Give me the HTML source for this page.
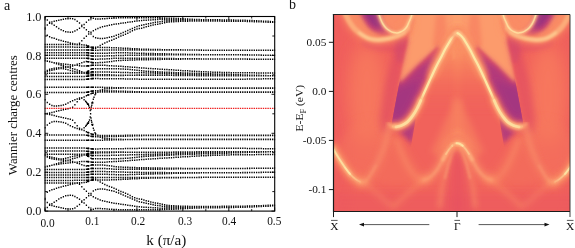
<!DOCTYPE html>
<html><head><meta charset="utf-8"><title>figure</title>
<style>html,body{margin:0;padding:0;background:#fff}svg{display:block}text{font-family:'Liberation Serif','DejaVu Serif',serif;fill:#111}</style></head><body>
<svg width="575" height="248" viewBox="0 0 575 248">
<rect width="575" height="248" fill="#fff"/>
<clipPath id="cpa"><rect x="44.5" y="16.5" width="230.7" height="194.6"/></clipPath>
<g clip-path="url(#cpa)"><path d="M45.0,16.8v1.5M47.3,19.3v1.5M49.6,21.4v1.5M51.9,23.1v1.5M54.2,24.4v1.5M56.5,26.0v1.5M58.8,27.7v1.5M61.1,29.0v1.5M63.4,30.1v1.5M65.7,30.9v1.5M68.0,31.2v1.5M70.3,31.4v1.5M72.6,31.2v1.5M74.9,30.2v1.5M77.2,29.0v1.5M79.5,27.4v1.5M81.8,25.7v1.5M84.1,23.8v1.5M86.4,21.6v1.5M88.7,19.3v1.5M91.0,17.1v1.5M93.3,17.5v1.5M95.6,18.2v1.5M97.9,18.2v1.5M100.2,18.2v1.5M102.5,18.1v1.5M104.8,18.0v1.5M107.1,17.8v1.5M109.4,17.5v1.5M111.7,17.4v1.5M114.0,17.3v1.5M116.3,17.2v1.5M118.6,17.1v1.5M120.9,17.1v1.5M123.2,17.0v1.5M125.5,17.0v1.5M127.8,16.9v1.5M130.1,16.9v1.5M132.4,16.9v1.5M134.7,16.9v1.5M137.0,16.9v1.5M139.3,16.9v1.5M141.6,16.9v1.5M143.9,16.9v1.5M146.2,16.9v1.5M148.5,16.9v1.5M150.8,17.0v1.5M153.1,17.0v1.5M155.4,17.1v1.5M157.7,17.1v1.5M160.0,17.2v1.5M162.3,17.2v1.5M164.6,17.3v1.5M166.9,17.4v1.5M169.2,17.4v1.5M171.5,17.5v1.5M173.8,17.6v1.5M176.1,17.7v1.5M178.4,17.8v1.5M180.7,17.9v1.5M183.0,18.0v1.5M185.3,18.2v1.5M187.6,18.3v1.5M189.9,18.4v1.5M192.2,18.6v1.5M194.5,18.7v1.5M196.8,18.8v1.5M199.1,18.8v1.5M201.4,18.9v1.5M203.7,18.9v1.5M206.0,19.0v1.5M208.3,19.0v1.5M210.6,19.0v1.5M212.9,19.1v1.5M215.2,19.1v1.5M217.5,19.1v1.5M219.8,19.1v1.5M222.1,19.2v1.5M224.4,19.2v1.5M226.7,19.2v1.5M229.0,19.3v1.5M231.3,19.3v1.5M233.6,19.3v1.5M235.9,19.4v1.5M238.2,19.4v1.5M240.5,19.5v1.5M242.8,19.5v1.5M245.1,19.6v1.5M247.4,19.7v1.5M249.7,19.7v1.5M252.0,19.8v1.5M254.3,19.9v1.5M256.6,20.0v1.5M258.9,20.2v1.5M261.2,20.3v1.5M263.5,20.4v1.5M265.8,20.5v1.5M268.1,20.6v1.5M270.4,20.8v1.5M272.7,20.9v1.5M275.0,21.1v1.5M45.0,27.2v1.5M47.3,24.3v1.5M49.6,22.4v1.5M51.9,21.2v1.5M54.2,20.4v1.5M56.5,19.9v1.5M58.8,19.4v1.5M61.1,19.0v1.5M63.4,18.5v1.5M65.7,18.1v1.5M68.0,17.9v1.5M70.3,17.8v1.5M72.6,18.0v1.5M74.9,18.8v1.5M77.2,20.4v1.5M79.5,22.3v1.5M81.8,24.6v1.5M84.1,26.9v1.5M86.4,29.1v1.5M88.7,31.1v1.5M91.0,33.3v1.5M93.3,35.7v1.5M95.6,37.1v1.5M97.9,37.6v1.5M100.2,37.8v1.5M102.5,37.8v1.5M104.8,37.5v1.5M107.1,37.1v1.5M109.4,36.6v1.5M111.7,36.1v1.5M114.0,35.4v1.5M116.3,34.6v1.5M118.6,33.7v1.5M120.9,32.8v1.5M123.2,31.8v1.5M125.5,30.8v1.5M127.8,29.8v1.5M130.1,28.7v1.5M132.4,27.7v1.5M134.7,26.7v1.5M137.0,25.8v1.5M139.3,25.1v1.5M141.6,24.6v1.5M143.9,24.0v1.5M146.2,23.4v1.5M148.5,22.9v1.5M150.8,22.4v1.5M153.1,22.0v1.5M155.4,21.6v1.5M157.7,21.3v1.5M160.0,20.9v1.5M162.3,20.5v1.5M164.6,20.2v1.5M166.9,20.1v1.5M169.2,20.0v1.5M171.5,20.0v1.5M173.8,19.9v1.5M176.1,19.9v1.5M178.4,19.9v1.5M180.7,19.9v1.5M183.0,19.9v1.5M185.3,19.9v1.5M187.6,19.9v1.5M189.9,19.9v1.5M192.2,20.0v1.5M194.5,20.0v1.5M196.8,20.1v1.5M199.1,20.1v1.5M201.4,20.2v1.5M203.7,20.2v1.5M206.0,20.2v1.5M208.3,20.2v1.5M210.6,20.3v1.5M212.9,20.3v1.5M215.2,20.3v1.5M217.5,20.3v1.5M219.8,20.3v1.5M222.1,20.4v1.5M224.4,20.4v1.5M226.7,20.4v1.5M229.0,20.4v1.5M231.3,20.4v1.5M233.6,20.5v1.5M235.9,20.5v1.5M238.2,20.5v1.5M240.5,20.6v1.5M242.8,20.6v1.5M245.1,20.6v1.5M247.4,20.7v1.5M249.7,20.8v1.5M252.0,20.8v1.5M254.3,20.9v1.5M256.6,21.0v1.5M258.9,21.0v1.5M261.2,21.1v1.5M263.5,21.2v1.5M265.8,21.3v1.5M268.1,21.4v1.5M270.4,21.5v1.5M272.7,21.6v1.5M275.0,21.6v1.5M45.0,28.2v1.5M47.3,34.4v1.5M49.6,36.1v1.5M51.9,37.0v1.5M54.2,37.6v1.5M56.5,38.4v1.5M58.8,39.2v1.5M61.1,39.8v1.5M63.4,40.4v1.5M65.7,40.9v1.5M68.0,41.5v1.5M70.3,42.2v1.5M72.6,42.8v1.5M74.9,43.2v1.5M77.2,43.5v1.5M79.5,42.4v1.5M81.8,39.9v1.5M84.1,37.6v1.5M86.4,35.5v1.5M88.7,33.3v1.5M91.0,31.5v1.5M93.3,29.9v1.5M95.6,28.7v1.5M97.9,27.7v1.5M100.2,26.8v1.5M102.5,26.1v1.5M104.8,25.5v1.5M107.1,25.0v1.5M109.4,24.5v1.5M111.7,24.0v1.5M114.0,23.6v1.5M116.3,23.2v1.5M118.6,22.9v1.5M120.9,22.6v1.5M123.2,22.3v1.5M125.5,22.0v1.5M127.8,21.6v1.5M130.1,21.2v1.5M132.4,20.9v1.5M134.7,20.5v1.5M137.0,20.2v1.5M139.3,20.0v1.5M141.6,19.8v1.5M143.9,19.6v1.5M146.2,19.5v1.5M148.5,19.3v1.5M150.8,19.2v1.5M153.1,19.1v1.5M155.4,18.9v1.5M157.7,18.8v1.5M160.0,18.6v1.5M162.3,18.5v1.5M164.6,18.5v1.5M166.9,18.4v1.5M169.2,18.4v1.5M171.5,18.4v1.5M173.8,18.4v1.5M176.1,18.4v1.5M178.4,18.4v1.5M180.7,18.4v1.5M183.0,18.5v1.5M185.3,18.5v1.5M187.6,18.5v1.5M189.9,18.6v1.5M192.2,18.6v1.5M194.5,18.7v1.5M196.8,18.8v1.5M199.1,18.8v1.5M201.4,18.9v1.5M203.7,18.9v1.5M206.0,18.9v1.5M208.3,19.0v1.5M210.6,19.0v1.5M212.9,19.0v1.5M215.2,19.1v1.5M217.5,19.1v1.5M219.8,19.1v1.5M222.1,19.2v1.5M224.4,19.2v1.5M226.7,19.2v1.5M229.0,19.2v1.5M231.3,19.3v1.5M233.6,19.3v1.5M235.9,19.4v1.5M238.2,19.4v1.5M240.5,19.5v1.5M242.8,19.5v1.5M245.1,19.6v1.5M247.4,19.7v1.5M249.7,19.7v1.5M252.0,19.8v1.5M254.3,19.9v1.5M256.6,20.0v1.5M258.9,20.2v1.5M261.2,20.3v1.5M263.5,20.4v1.5M265.8,20.5v1.5M268.1,20.6v1.5M270.4,20.8v1.5M272.7,20.9v1.5M275.0,21.1v1.5M45.0,43.8v1.5M47.3,43.8v1.5M49.6,43.8v1.5M51.9,43.8v1.5M54.2,43.8v1.5M56.5,43.8v1.5M58.8,43.8v1.5M61.1,43.8v1.5M63.4,43.8v1.5M65.7,43.8v1.5M68.0,43.8v1.5M70.3,43.8v1.5M72.6,43.8v1.5M74.9,43.8v1.5M77.2,43.9v1.5M79.5,43.9v1.5M81.8,44.0v1.5M84.1,44.2v1.5M86.4,44.6v1.5M88.7,45.7v1.5M91.0,46.6v1.5M93.3,47.4v1.5M95.6,47.4v1.5M97.9,46.2v1.5M100.2,44.7v1.5M102.5,43.5v1.5M104.8,42.3v1.5M107.1,41.2v1.5M109.4,40.3v1.5M111.7,39.5v1.5M114.0,38.6v1.5M116.3,37.4v1.5M118.6,36.2v1.5M120.9,35.2v1.5M123.2,34.4v1.5M125.5,33.5v1.5M127.8,32.5v1.5M130.1,31.3v1.5M132.4,30.1v1.5M134.7,29.1v1.5M137.0,28.3v1.5M139.3,27.8v1.5M141.6,27.4v1.5M143.9,26.8v1.5M146.2,26.1v1.5M148.5,25.4v1.5M150.8,24.8v1.5M153.1,24.3v1.5M155.4,23.8v1.5M157.7,23.4v1.5M160.0,22.9v1.5M162.3,22.4v1.5M164.6,22.0v1.5M166.9,21.6v1.5M169.2,21.3v1.5M171.5,21.0v1.5M173.8,20.9v1.5M176.1,20.7v1.5M178.4,20.7v1.5M180.7,20.6v1.5M183.0,20.5v1.5M185.3,20.5v1.5M187.6,20.4v1.5M189.9,20.3v1.5M192.2,20.3v1.5M194.5,20.2v1.5M196.8,20.2v1.5M199.1,20.2v1.5M201.4,20.2v1.5M203.7,20.2v1.5M206.0,20.2v1.5M208.3,20.2v1.5M210.6,20.2v1.5M212.9,20.2v1.5M215.2,20.2v1.5M217.5,20.2v1.5M219.8,20.3v1.5M222.1,20.3v1.5M224.4,20.3v1.5M226.7,20.4v1.5M229.0,20.4v1.5M231.3,20.4v1.5M233.6,20.5v1.5M235.9,20.5v1.5M238.2,20.5v1.5M240.5,20.6v1.5M242.8,20.6v1.5M245.1,20.6v1.5M247.4,20.7v1.5M249.7,20.8v1.5M252.0,20.8v1.5M254.3,20.9v1.5M256.6,21.0v1.5M258.9,21.0v1.5M261.2,21.1v1.5M263.5,21.2v1.5M265.8,21.3v1.5M268.1,21.4v1.5M270.4,21.5v1.5M272.7,21.6v1.5M275.0,21.6v1.5M45.0,46.2v1.5M47.3,46.3v1.5M49.6,46.3v1.5M51.9,46.3v1.5M54.2,46.3v1.5M56.5,46.3v1.5M58.8,46.3v1.5M61.1,46.3v1.5M63.4,46.3v1.5M65.7,46.3v1.5M68.0,46.3v1.5M70.3,46.3v1.5M72.6,46.3v1.5M74.9,46.4v1.5M77.2,46.4v1.5M79.5,46.4v1.5M81.8,46.4v1.5M84.1,46.4v1.5M86.4,46.5v1.5M88.7,46.5v1.5M91.0,46.6v1.5M93.3,46.6v1.5M95.6,46.6v1.5M97.9,46.6v1.5M100.2,46.7v1.5M102.5,46.7v1.5M104.8,46.7v1.5M107.1,46.8v1.5M109.4,46.8v1.5M111.7,46.9v1.5M114.0,47.0v1.5M116.3,47.1v1.5M118.6,47.2v1.5M120.9,47.3v1.5M123.2,47.4v1.5M125.5,47.5v1.5M127.8,47.6v1.5M130.1,47.7v1.5M132.4,47.9v1.5M134.7,48.0v1.5M137.0,48.1v1.5M139.3,48.3v1.5M141.6,48.4v1.5M143.9,48.5v1.5M146.2,48.6v1.5M148.5,48.6v1.5M150.8,48.7v1.5M153.1,48.7v1.5M155.4,48.7v1.5M157.7,48.8v1.5M160.0,48.8v1.5M162.3,48.9v1.5M164.6,48.9v1.5M166.9,48.9v1.5M169.2,49.0v1.5M171.5,49.0v1.5M173.8,49.0v1.5M176.1,49.1v1.5M178.4,49.1v1.5M180.7,49.1v1.5M183.0,49.2v1.5M185.3,49.2v1.5M187.6,49.2v1.5M189.9,49.2v1.5M192.2,49.3v1.5M194.5,49.3v1.5M196.8,49.3v1.5M199.1,49.3v1.5M201.4,49.3v1.5M203.7,49.4v1.5M206.0,49.4v1.5M208.3,49.4v1.5M210.6,49.4v1.5M212.9,49.4v1.5M215.2,49.4v1.5M217.5,49.4v1.5M219.8,49.4v1.5M222.1,49.4v1.5M224.4,49.4v1.5M226.7,49.4v1.5M229.0,49.4v1.5M231.3,49.4v1.5M233.6,49.4v1.5M235.9,49.4v1.5M238.2,49.4v1.5M240.5,49.4v1.5M242.8,49.4v1.5M245.1,49.4v1.5M247.4,49.4v1.5M249.7,49.4v1.5M252.0,49.4v1.5M254.3,49.4v1.5M256.6,49.4v1.5M258.9,49.4v1.5M261.2,49.4v1.5M263.5,49.4v1.5M265.8,49.4v1.5M268.1,49.4v1.5M270.4,49.4v1.5M272.7,49.4v1.5M275.0,49.4v1.5M45.0,49.2v1.5M47.3,49.2v1.5M49.6,49.2v1.5M51.9,49.2v1.5M54.2,49.2v1.5M56.5,49.2v1.5M58.8,49.2v1.5M61.1,49.2v1.5M63.4,49.2v1.5M65.7,49.2v1.5M68.0,49.2v1.5M70.3,49.2v1.5M72.6,49.2v1.5M74.9,49.2v1.5M77.2,49.2v1.5M79.5,49.2v1.5M81.8,49.2v1.5M84.1,49.2v1.5M86.4,49.3v1.5M88.7,49.3v1.5M91.0,49.3v1.5M93.3,49.4v1.5M95.6,49.4v1.5M97.9,49.4v1.5M100.2,49.3v1.5M102.5,49.3v1.5M104.8,49.3v1.5M107.1,49.3v1.5M109.4,49.3v1.5M111.7,49.3v1.5M114.0,49.3v1.5M116.3,49.3v1.5M118.6,49.3v1.5M120.9,49.2v1.5M123.2,49.2v1.5M125.5,49.2v1.5M127.8,49.2v1.5M130.1,49.2v1.5M132.4,49.2v1.5M134.7,49.2v1.5M137.0,49.2v1.5M139.3,49.2v1.5M141.6,49.2v1.5M143.9,49.2v1.5M146.2,49.2v1.5M148.5,49.2v1.5M150.8,49.2v1.5M153.1,49.2v1.5M155.4,49.2v1.5M157.7,49.2v1.5M160.0,49.2v1.5M162.3,49.2v1.5M164.6,49.2v1.5M166.9,49.2v1.5M169.2,49.2v1.5M171.5,49.2v1.5M173.8,49.2v1.5M176.1,49.2v1.5M178.4,49.2v1.5M180.7,49.2v1.5M183.0,49.3v1.5M185.3,49.3v1.5M187.6,49.3v1.5M189.9,49.3v1.5M192.2,49.3v1.5M194.5,49.3v1.5M196.8,49.3v1.5M199.1,49.4v1.5M201.4,49.4v1.5M203.7,49.4v1.5M206.0,49.4v1.5M208.3,49.4v1.5M210.6,49.4v1.5M212.9,49.4v1.5M215.2,49.4v1.5M217.5,49.4v1.5M219.8,49.4v1.5M222.1,49.4v1.5M224.4,49.4v1.5M226.7,49.4v1.5M229.0,49.4v1.5M231.3,49.4v1.5M233.6,49.4v1.5M235.9,49.4v1.5M238.2,49.4v1.5M240.5,49.4v1.5M242.8,49.4v1.5M245.1,49.4v1.5M247.4,49.4v1.5M249.7,49.4v1.5M252.0,49.4v1.5M254.3,49.4v1.5M256.6,49.4v1.5M258.9,49.4v1.5M261.2,49.4v1.5M263.5,49.4v1.5M265.8,49.4v1.5M268.1,49.4v1.5M270.4,49.4v1.5M272.7,49.4v1.5M275.0,49.4v1.5M45.0,51.9v1.5M47.3,51.9v1.5M49.6,51.9v1.5M51.9,51.9v1.5M54.2,51.9v1.5M56.5,51.9v1.5M58.8,51.9v1.5M61.1,51.9v1.5M63.4,51.9v1.5M65.7,51.9v1.5M68.0,51.9v1.5M70.3,51.9v1.5M72.6,51.9v1.5M74.9,51.9v1.5M77.2,51.9v1.5M79.5,51.9v1.5M81.8,51.9v1.5M84.1,51.9v1.5M86.4,51.9v1.5M88.7,52.2v1.5M91.0,52.4v1.5M93.3,52.5v1.5M95.6,52.5v1.5M97.9,52.5v1.5M100.2,52.5v1.5M102.5,52.5v1.5M104.8,52.5v1.5M107.1,52.4v1.5M109.4,52.3v1.5M111.7,52.2v1.5M114.0,52.2v1.5M116.3,52.1v1.5M118.6,52.1v1.5M120.9,52.1v1.5M123.2,52.1v1.5M125.5,52.1v1.5M127.8,52.1v1.5M130.1,52.2v1.5M132.4,52.2v1.5M134.7,52.3v1.5M137.0,52.4v1.5M139.3,52.4v1.5M141.6,52.5v1.5M143.9,52.6v1.5M146.2,52.7v1.5M148.5,52.7v1.5M150.8,52.8v1.5M153.1,52.8v1.5M155.4,52.9v1.5M157.7,52.9v1.5M160.0,53.0v1.5M162.3,53.1v1.5M164.6,53.1v1.5M166.9,53.2v1.5M169.2,53.2v1.5M171.5,53.3v1.5M173.8,53.4v1.5M176.1,53.4v1.5M178.4,53.5v1.5M180.7,53.5v1.5M183.0,53.6v1.5M185.3,53.6v1.5M187.6,53.7v1.5M189.9,53.7v1.5M192.2,53.7v1.5M194.5,53.8v1.5M196.8,53.8v1.5M199.1,53.8v1.5M201.4,53.9v1.5M203.7,53.9v1.5M206.0,53.9v1.5M208.3,53.9v1.5M210.6,53.9v1.5M212.9,53.9v1.5M215.2,54.0v1.5M217.5,54.0v1.5M219.8,54.0v1.5M222.1,54.0v1.5M224.4,54.0v1.5M226.7,54.0v1.5M229.0,54.0v1.5M231.3,54.1v1.5M233.6,54.1v1.5M235.9,54.1v1.5M238.2,54.1v1.5M240.5,54.1v1.5M242.8,54.2v1.5M245.1,54.2v1.5M247.4,54.2v1.5M249.7,54.2v1.5M252.0,54.3v1.5M254.3,54.3v1.5M256.6,54.3v1.5M258.9,54.3v1.5M261.2,54.4v1.5M263.5,54.4v1.5M265.8,54.4v1.5M268.1,54.5v1.5M270.4,54.5v1.5M272.7,54.5v1.5M275.0,54.5v1.5M45.0,54.4v1.5M47.3,54.4v1.5M49.6,54.4v1.5M51.9,54.4v1.5M54.2,54.4v1.5M56.5,54.4v1.5M58.8,54.4v1.5M61.1,54.4v1.5M63.4,54.4v1.5M65.7,54.4v1.5M68.0,54.4v1.5M70.3,54.4v1.5M72.6,54.4v1.5M74.9,54.4v1.5M77.2,54.4v1.5M79.5,54.4v1.5M81.8,54.4v1.5M84.1,54.4v1.5M86.4,54.4v1.5M88.7,54.7v1.5M91.0,55.1v1.5M93.3,55.2v1.5M95.6,55.2v1.5M97.9,55.2v1.5M100.2,55.2v1.5M102.5,55.2v1.5M104.8,55.2v1.5M107.1,55.1v1.5M109.4,55.1v1.5M111.7,55.0v1.5M114.0,54.9v1.5M116.3,54.8v1.5M118.6,54.8v1.5M120.9,54.7v1.5M123.2,54.7v1.5M125.5,54.6v1.5M127.8,54.6v1.5M130.1,54.5v1.5M132.4,54.5v1.5M134.7,54.5v1.5M137.0,54.4v1.5M139.3,54.4v1.5M141.6,54.3v1.5M143.9,54.3v1.5M146.2,54.3v1.5M148.5,54.3v1.5M150.8,54.2v1.5M153.1,54.2v1.5M155.4,54.2v1.5M157.7,54.2v1.5M160.0,54.2v1.5M162.3,54.2v1.5M164.6,54.2v1.5M166.9,54.1v1.5M169.2,54.1v1.5M171.5,54.1v1.5M173.8,54.1v1.5M176.1,54.1v1.5M178.4,54.1v1.5M180.7,54.1v1.5M183.0,54.1v1.5M185.3,54.1v1.5M187.6,54.1v1.5M189.9,54.1v1.5M192.2,54.1v1.5M194.5,54.1v1.5M196.8,54.1v1.5M199.1,54.1v1.5M201.4,54.0v1.5M203.7,54.0v1.5M206.0,54.0v1.5M208.3,54.0v1.5M210.6,54.0v1.5M212.9,54.0v1.5M215.2,54.0v1.5M217.5,54.0v1.5M219.8,54.0v1.5M222.1,54.0v1.5M224.4,54.0v1.5M226.7,54.0v1.5M229.0,54.0v1.5M231.3,54.1v1.5M233.6,54.1v1.5M235.9,54.1v1.5M238.2,54.1v1.5M240.5,54.1v1.5M242.8,54.1v1.5M245.1,54.1v1.5M247.4,54.1v1.5M249.7,54.2v1.5M252.0,54.2v1.5M254.3,54.2v1.5M256.6,54.3v1.5M258.9,54.3v1.5M261.2,54.3v1.5M263.5,54.4v1.5M265.8,54.4v1.5M268.1,54.4v1.5M270.4,54.5v1.5M272.7,54.5v1.5M275.0,54.5v1.5M45.0,57.4v1.5M47.3,57.4v1.5M49.6,57.4v1.5M51.9,57.4v1.5M54.2,57.4v1.5M56.5,57.4v1.5M58.8,57.4v1.5M61.1,57.4v1.5M63.4,57.4v1.5M65.7,57.4v1.5M68.0,57.4v1.5M70.3,57.4v1.5M72.6,57.4v1.5M74.9,57.4v1.5M77.2,57.4v1.5M79.5,57.4v1.5M81.8,57.4v1.5M84.1,57.4v1.5M86.4,57.4v1.5M88.7,57.8v1.5M91.0,58.2v1.5M93.3,58.4v1.5M95.6,58.4v1.5M97.9,58.4v1.5M100.2,58.3v1.5M102.5,58.3v1.5M104.8,58.2v1.5M107.1,58.1v1.5M109.4,57.9v1.5M111.7,57.8v1.5M114.0,57.6v1.5M116.3,57.5v1.5M118.6,57.5v1.5M120.9,57.5v1.5M123.2,57.5v1.5M125.5,57.5v1.5M127.8,57.5v1.5M130.1,57.5v1.5M132.4,57.5v1.5M134.7,57.5v1.5M137.0,57.5v1.5M139.3,57.5v1.5M141.6,57.5v1.5M143.9,57.5v1.5M146.2,57.5v1.5M148.5,57.5v1.5M150.8,57.6v1.5M153.1,57.6v1.5M155.4,57.6v1.5M157.7,57.6v1.5M160.0,57.6v1.5M162.3,57.7v1.5M164.6,57.7v1.5M166.9,57.7v1.5M169.2,57.8v1.5M171.5,57.8v1.5M173.8,57.8v1.5M176.1,57.9v1.5M178.4,57.9v1.5M180.7,57.9v1.5M183.0,58.0v1.5M185.3,58.0v1.5M187.6,58.0v1.5M189.9,58.1v1.5M192.2,58.1v1.5M194.5,58.1v1.5M196.8,58.1v1.5M199.1,58.1v1.5M201.4,58.2v1.5M203.7,58.2v1.5M206.0,58.2v1.5M208.3,58.2v1.5M210.6,58.2v1.5M212.9,58.2v1.5M215.2,58.2v1.5M217.5,58.2v1.5M219.8,58.2v1.5M222.1,58.2v1.5M224.4,58.2v1.5M226.7,58.2v1.5M229.0,58.2v1.5M231.3,58.3v1.5M233.6,58.3v1.5M235.9,58.3v1.5M238.2,58.3v1.5M240.5,58.3v1.5M242.8,58.3v1.5M245.1,58.3v1.5M247.4,58.4v1.5M249.7,58.4v1.5M252.0,58.4v1.5M254.3,58.4v1.5M256.6,58.4v1.5M258.9,58.5v1.5M261.2,58.5v1.5M263.5,58.5v1.5M265.8,58.5v1.5M268.1,58.6v1.5M270.4,58.6v1.5M272.7,58.6v1.5M275.0,58.6v1.5M45.0,71.2v1.5M47.3,69.7v1.5M49.6,68.6v1.5M51.9,68.0v1.5M54.2,67.5v1.5M56.5,67.2v1.5M58.8,66.9v1.5M61.1,66.7v1.5M63.4,66.5v1.5M65.7,66.4v1.5M68.0,66.1v1.5M70.3,65.7v1.5M72.6,65.2v1.5M74.9,64.4v1.5M77.2,63.6v1.5M79.5,62.9v1.5M81.8,62.1v1.5M84.1,61.3v1.5M86.4,60.8v1.5M88.7,61.1v1.5M91.0,61.6v1.5M93.3,61.9v1.5M95.6,61.9v1.5M97.9,61.9v1.5M100.2,61.8v1.5M102.5,61.8v1.5M104.8,61.6v1.5M107.1,61.3v1.5M109.4,61.0v1.5M111.7,60.7v1.5M114.0,60.3v1.5M116.3,60.1v1.5M118.6,59.8v1.5M120.9,59.7v1.5M123.2,59.6v1.5M125.5,59.5v1.5M127.8,59.4v1.5M130.1,59.3v1.5M132.4,59.3v1.5M134.7,59.2v1.5M137.0,59.1v1.5M139.3,59.1v1.5M141.6,59.0v1.5M143.9,59.0v1.5M146.2,58.9v1.5M148.5,58.9v1.5M150.8,58.8v1.5M153.1,58.8v1.5M155.4,58.8v1.5M157.7,58.7v1.5M160.0,58.7v1.5M162.3,58.6v1.5M164.6,58.6v1.5M166.9,58.6v1.5M169.2,58.5v1.5M171.5,58.5v1.5M173.8,58.5v1.5M176.1,58.4v1.5M178.4,58.4v1.5M180.7,58.4v1.5M183.0,58.3v1.5M185.3,58.3v1.5M187.6,58.3v1.5M189.9,58.3v1.5M192.2,58.3v1.5M194.5,58.3v1.5M196.8,58.3v1.5M199.1,58.3v1.5M201.4,58.2v1.5M203.7,58.2v1.5M206.0,58.2v1.5M208.3,58.2v1.5M210.6,58.2v1.5M212.9,58.2v1.5M215.2,58.2v1.5M217.5,58.2v1.5M219.8,58.2v1.5M222.1,58.2v1.5M224.4,58.2v1.5M226.7,58.2v1.5M229.0,58.2v1.5M231.3,58.3v1.5M233.6,58.3v1.5M235.9,58.3v1.5M238.2,58.3v1.5M240.5,58.3v1.5M242.8,58.3v1.5M245.1,58.3v1.5M247.4,58.3v1.5M249.7,58.3v1.5M252.0,58.4v1.5M254.3,58.4v1.5M256.6,58.4v1.5M258.9,58.4v1.5M261.2,58.5v1.5M263.5,58.5v1.5M265.8,58.5v1.5M268.1,58.6v1.5M270.4,58.6v1.5M272.7,58.6v1.5M275.0,58.6v1.5M45.0,59.6v1.5M47.3,60.2v1.5M49.6,60.8v1.5M51.9,61.6v1.5M54.2,62.3v1.5M56.5,63.0v1.5M58.8,63.7v1.5M61.1,64.5v1.5M63.4,65.1v1.5M65.7,65.8v1.5M68.0,66.5v1.5M70.3,67.2v1.5M72.6,67.9v1.5M74.9,68.5v1.5M77.2,69.2v1.5M79.5,70.0v1.5M81.8,70.9v1.5M84.1,71.7v1.5M86.4,72.2v1.5M88.7,71.9v1.5M91.0,71.4v1.5M93.3,71.2v1.5M95.6,71.2v1.5M97.9,71.2v1.5M100.2,71.2v1.5M102.5,71.2v1.5M104.8,71.2v1.5M107.1,71.3v1.5M109.4,71.3v1.5M111.7,71.4v1.5M114.0,71.5v1.5M116.3,71.5v1.5M118.6,71.6v1.5M120.9,71.7v1.5M123.2,71.7v1.5M125.5,71.8v1.5M127.8,71.8v1.5M130.1,71.9v1.5M132.4,71.9v1.5M134.7,71.9v1.5M137.0,72.0v1.5M139.3,72.0v1.5M141.6,72.1v1.5M143.9,72.1v1.5M146.2,72.2v1.5M148.5,72.2v1.5M150.8,72.3v1.5M153.1,72.3v1.5M155.4,72.4v1.5M157.7,72.4v1.5M160.0,72.5v1.5M162.3,72.5v1.5M164.6,72.6v1.5M166.9,72.7v1.5M169.2,72.7v1.5M171.5,72.8v1.5M173.8,72.8v1.5M176.1,72.9v1.5M178.4,73.0v1.5M180.7,73.0v1.5M183.0,73.1v1.5M185.3,73.1v1.5M187.6,73.2v1.5M189.9,73.3v1.5M192.2,73.3v1.5M194.5,73.4v1.5M196.8,73.4v1.5M199.1,73.5v1.5M201.4,73.6v1.5M203.7,73.6v1.5M206.0,73.7v1.5M208.3,73.7v1.5M210.6,73.8v1.5M212.9,73.9v1.5M215.2,73.9v1.5M217.5,74.0v1.5M219.8,74.0v1.5M222.1,74.1v1.5M224.4,74.1v1.5M226.7,74.2v1.5M229.0,74.2v1.5M231.3,74.3v1.5M233.6,74.3v1.5M235.9,74.4v1.5M238.2,74.4v1.5M240.5,74.5v1.5M242.8,74.5v1.5M245.1,74.5v1.5M247.4,74.6v1.5M249.7,74.6v1.5M252.0,74.7v1.5M254.3,74.7v1.5M256.6,74.8v1.5M258.9,74.8v1.5M261.2,74.8v1.5M263.5,74.9v1.5M265.8,74.9v1.5M268.1,74.9v1.5M270.4,75.0v1.5M272.7,75.0v1.5M275.0,75.0v1.5M45.0,59.9v1.5M47.3,60.4v1.5M49.6,61.0v1.5M51.9,61.4v1.5M54.2,61.9v1.5M56.5,62.2v1.5M58.8,62.6v1.5M61.1,62.9v1.5M63.4,63.2v1.5M65.7,63.5v1.5M68.0,63.8v1.5M70.3,64.0v1.5M72.6,64.2v1.5M74.9,64.4v1.5M77.2,64.6v1.5M79.5,64.9v1.5M81.8,65.2v1.5M84.1,65.2v1.5M86.4,65.2v1.5M88.7,65.0v1.5M91.0,64.7v1.5M93.3,64.5v1.5M95.6,64.5v1.5M97.9,64.5v1.5M100.2,64.6v1.5M102.5,64.6v1.5M104.8,64.6v1.5M107.1,64.7v1.5M109.4,64.9v1.5M111.7,65.0v1.5M114.0,65.2v1.5M116.3,65.3v1.5M118.6,65.5v1.5M120.9,65.6v1.5M123.2,65.8v1.5M125.5,65.9v1.5M127.8,66.1v1.5M130.1,66.3v1.5M132.4,66.4v1.5M134.7,66.6v1.5M137.0,66.8v1.5M139.3,67.0v1.5M141.6,67.2v1.5M143.9,67.3v1.5M146.2,67.5v1.5M148.5,67.7v1.5M150.8,67.8v1.5M153.1,67.9v1.5M155.4,68.1v1.5M157.7,68.2v1.5M160.0,68.4v1.5M162.3,68.5v1.5M164.6,68.7v1.5M166.9,68.8v1.5M169.2,69.0v1.5M171.5,69.1v1.5M173.8,69.3v1.5M176.1,69.4v1.5M178.4,69.6v1.5M180.7,69.7v1.5M183.0,69.9v1.5M185.3,70.0v1.5M187.6,70.1v1.5M189.9,70.3v1.5M192.2,70.4v1.5M194.5,70.5v1.5M196.8,70.7v1.5M199.1,70.8v1.5M201.4,70.9v1.5M203.7,71.0v1.5M206.0,71.1v1.5M208.3,71.2v1.5M210.6,71.3v1.5M212.9,71.4v1.5M215.2,71.5v1.5M217.5,71.6v1.5M219.8,71.6v1.5M222.1,71.7v1.5M224.4,71.7v1.5M226.7,71.8v1.5M229.0,71.8v1.5M231.3,71.9v1.5M233.6,71.9v1.5M235.9,71.9v1.5M238.2,72.0v1.5M240.5,72.0v1.5M242.8,72.0v1.5M245.1,72.0v1.5M247.4,72.1v1.5M249.7,72.1v1.5M252.0,72.1v1.5M254.3,72.1v1.5M256.6,72.2v1.5M258.9,72.2v1.5M261.2,72.2v1.5M263.5,72.2v1.5M265.8,72.2v1.5M268.1,72.2v1.5M270.4,72.2v1.5M272.7,72.2v1.5M275.0,72.2v1.5M45.0,71.2v1.5M47.3,70.6v1.5M49.6,70.1v1.5M51.9,69.5v1.5M54.2,69.0v1.5M56.5,68.4v1.5M58.8,67.9v1.5M61.1,67.8v1.5M63.4,68.0v1.5M65.7,68.4v1.5M68.0,68.9v1.5M70.3,69.7v1.5M72.6,70.3v1.5M74.9,70.8v1.5M77.2,71.2v1.5M79.5,71.5v1.5M81.8,71.8v1.5M84.1,71.9v1.5M86.4,71.6v1.5M88.7,70.2v1.5M91.0,68.6v1.5M93.3,68.0v1.5M95.6,68.0v1.5M97.9,68.0v1.5M100.2,68.0v1.5M102.5,68.0v1.5M104.8,68.0v1.5M107.1,68.0v1.5M109.4,68.0v1.5M111.7,68.0v1.5M114.0,68.1v1.5M116.3,68.1v1.5M118.6,68.1v1.5M120.9,68.2v1.5M123.2,68.3v1.5M125.5,68.4v1.5M127.8,68.6v1.5M130.1,68.8v1.5M132.4,69.0v1.5M134.7,69.2v1.5M137.0,69.5v1.5M139.3,69.7v1.5M141.6,70.0v1.5M143.9,70.2v1.5M146.2,70.4v1.5M148.5,70.6v1.5M150.8,70.7v1.5M153.1,70.8v1.5M155.4,70.9v1.5M157.7,71.1v1.5M160.0,71.2v1.5M162.3,71.3v1.5M164.6,71.4v1.5M166.9,71.5v1.5M169.2,71.6v1.5M171.5,71.7v1.5M173.8,71.8v1.5M176.1,71.9v1.5M178.4,72.0v1.5M180.7,72.1v1.5M183.0,72.2v1.5M185.3,72.3v1.5M187.6,72.3v1.5M189.9,72.4v1.5M192.2,72.5v1.5M194.5,72.6v1.5M196.8,72.7v1.5M199.1,72.7v1.5M201.4,72.8v1.5M203.7,72.9v1.5M206.0,73.0v1.5M208.3,73.1v1.5M210.6,73.1v1.5M212.9,73.2v1.5M215.2,73.3v1.5M217.5,73.3v1.5M219.8,73.4v1.5M222.1,73.5v1.5M224.4,73.6v1.5M226.7,73.6v1.5M229.0,73.7v1.5M231.3,73.8v1.5M233.6,73.9v1.5M235.9,73.9v1.5M238.2,74.0v1.5M240.5,74.1v1.5M242.8,74.2v1.5M245.1,74.2v1.5M247.4,74.3v1.5M249.7,74.4v1.5M252.0,74.4v1.5M254.3,74.5v1.5M256.6,74.6v1.5M258.9,74.6v1.5M261.2,74.7v1.5M263.5,74.7v1.5M265.8,74.8v1.5M268.1,74.9v1.5M270.4,74.9v1.5M272.7,75.0v1.5M275.0,75.0v1.5M45.0,72.5v1.5M47.3,72.5v1.5M49.6,72.5v1.5M51.9,72.5v1.5M54.2,72.5v1.5M56.5,72.5v1.5M58.8,72.5v1.5M61.1,72.5v1.5M63.4,72.5v1.5M65.7,72.5v1.5M68.0,72.5v1.5M70.3,72.5v1.5M72.6,72.5v1.5M74.9,72.5v1.5M77.2,72.5v1.5M79.5,72.5v1.5M81.8,72.5v1.5M84.1,72.5v1.5M86.4,72.7v1.5M88.7,73.1v1.5M91.0,73.6v1.5M93.3,73.8v1.5M95.6,73.8v1.5M97.9,73.8v1.5M100.2,73.9v1.5M102.5,73.9v1.5M104.8,73.9v1.5M107.1,74.0v1.5M109.4,74.1v1.5M111.7,74.2v1.5M114.0,74.3v1.5M116.3,74.4v1.5M118.6,74.4v1.5M120.9,74.4v1.5M123.2,74.4v1.5M125.5,74.4v1.5M127.8,74.4v1.5M130.1,74.4v1.5M132.4,74.4v1.5M134.7,74.4v1.5M137.0,74.3v1.5M139.3,74.3v1.5M141.6,74.3v1.5M143.9,74.3v1.5M146.2,74.3v1.5M148.5,74.3v1.5M150.8,74.3v1.5M153.1,74.3v1.5M155.4,74.3v1.5M157.7,74.3v1.5M160.0,74.3v1.5M162.3,74.3v1.5M164.6,74.3v1.5M166.9,74.3v1.5M169.2,74.4v1.5M171.5,74.4v1.5M173.8,74.4v1.5M176.1,74.4v1.5M178.4,74.5v1.5M180.7,74.5v1.5M183.0,74.5v1.5M185.3,74.6v1.5M187.6,74.6v1.5M189.9,74.6v1.5M192.2,74.7v1.5M194.5,74.7v1.5M196.8,74.8v1.5M199.1,74.8v1.5M201.4,74.8v1.5M203.7,74.8v1.5M206.0,74.9v1.5M208.3,74.9v1.5M210.6,74.9v1.5M212.9,75.0v1.5M215.2,75.0v1.5M217.5,75.0v1.5M219.8,75.0v1.5M222.1,75.0v1.5M224.4,75.0v1.5M226.7,75.0v1.5M229.0,75.0v1.5M231.3,75.0v1.5M233.6,75.0v1.5M235.9,75.0v1.5M238.2,75.0v1.5M240.5,75.0v1.5M242.8,75.0v1.5M245.1,75.0v1.5M247.4,75.0v1.5M249.7,75.0v1.5M252.0,75.0v1.5M254.3,75.0v1.5M256.6,75.0v1.5M258.9,75.0v1.5M261.2,75.0v1.5M263.5,75.0v1.5M265.8,75.0v1.5M268.1,75.0v1.5M270.4,75.0v1.5M272.7,75.0v1.5M275.0,75.0v1.5M45.0,75.7v1.5M47.3,75.7v1.5M49.6,75.7v1.5M51.9,75.7v1.5M54.2,75.7v1.5M56.5,75.7v1.5M58.8,75.7v1.5M61.1,75.7v1.5M63.4,75.7v1.5M65.7,75.7v1.5M68.0,75.7v1.5M70.3,75.7v1.5M72.6,75.7v1.5M74.9,75.7v1.5M77.2,75.7v1.5M79.5,75.7v1.5M81.8,75.7v1.5M84.1,75.7v1.5M86.4,75.6v1.5M88.7,75.3v1.5M91.0,74.9v1.5M93.3,74.8v1.5M95.6,74.8v1.5M97.9,74.8v1.5M100.2,74.7v1.5M102.5,74.7v1.5M104.8,74.7v1.5M107.1,74.7v1.5M109.4,74.7v1.5M111.7,74.7v1.5M114.0,74.7v1.5M116.3,74.7v1.5M118.6,74.7v1.5M120.9,74.7v1.5M123.2,74.7v1.5M125.5,74.6v1.5M127.8,74.6v1.5M130.1,74.6v1.5M132.4,74.6v1.5M134.7,74.6v1.5M137.0,74.6v1.5M139.3,74.6v1.5M141.6,74.6v1.5M143.9,74.6v1.5M146.2,74.6v1.5M148.5,74.6v1.5M150.8,74.6v1.5M153.1,74.6v1.5M155.4,74.6v1.5M157.7,74.6v1.5M160.0,74.6v1.5M162.3,74.6v1.5M164.6,74.6v1.5M166.9,74.6v1.5M169.2,74.6v1.5M171.5,74.6v1.5M173.8,74.7v1.5M176.1,74.7v1.5M178.4,74.7v1.5M180.7,74.7v1.5M183.0,74.7v1.5M185.3,74.8v1.5M187.6,74.8v1.5M189.9,74.8v1.5M192.2,74.8v1.5M194.5,74.8v1.5M196.8,74.9v1.5M199.1,74.9v1.5M201.4,74.9v1.5M203.7,74.9v1.5M206.0,74.9v1.5M208.3,75.0v1.5M210.6,75.0v1.5M212.9,75.0v1.5M215.2,75.0v1.5M217.5,75.0v1.5M219.8,75.0v1.5M222.1,75.0v1.5M224.4,75.0v1.5M226.7,75.0v1.5M229.0,75.0v1.5M231.3,75.0v1.5M233.6,75.0v1.5M235.9,75.0v1.5M238.2,75.0v1.5M240.5,75.0v1.5M242.8,75.0v1.5M245.1,75.0v1.5M247.4,75.0v1.5M249.7,75.0v1.5M252.0,75.0v1.5M254.3,75.0v1.5M256.6,75.0v1.5M258.9,75.0v1.5M261.2,75.0v1.5M263.5,75.0v1.5M265.8,75.0v1.5M268.1,75.0v1.5M270.4,75.0v1.5M272.7,75.0v1.5M275.0,75.0v1.5M45.0,78.7v1.5M47.3,78.7v1.5M49.6,78.7v1.5M51.9,78.7v1.5M54.2,78.7v1.5M56.5,78.7v1.5M58.8,78.7v1.5M61.1,78.7v1.5M63.4,78.7v1.5M65.7,78.7v1.5M68.0,78.7v1.5M70.3,78.7v1.5M72.6,78.7v1.5M74.9,78.7v1.5M77.2,78.7v1.5M79.5,78.7v1.5M81.8,78.7v1.5M84.1,78.7v1.5M86.4,78.6v1.5M88.7,78.3v1.5M91.0,78.0v1.5M93.3,77.8v1.5M95.6,77.8v1.5M97.9,77.8v1.5M100.2,77.9v1.5M102.5,77.9v1.5M104.8,77.9v1.5M107.1,77.9v1.5M109.4,77.9v1.5M111.7,77.9v1.5M114.0,78.0v1.5M116.3,78.0v1.5M118.6,78.0v1.5M120.9,78.1v1.5M123.2,78.1v1.5M125.5,78.2v1.5M127.8,78.2v1.5M130.1,78.2v1.5M132.4,78.3v1.5M134.7,78.3v1.5M137.0,78.3v1.5M139.3,78.4v1.5M141.6,78.4v1.5M143.9,78.4v1.5M146.2,78.4v1.5M148.5,78.4v1.5M150.8,78.5v1.5M153.1,78.5v1.5M155.4,78.5v1.5M157.7,78.5v1.5M160.0,78.5v1.5M162.3,78.5v1.5M164.6,78.5v1.5M166.9,78.5v1.5M169.2,78.5v1.5M171.5,78.5v1.5M173.8,78.5v1.5M176.1,78.5v1.5M178.4,78.5v1.5M180.7,78.5v1.5M183.0,78.5v1.5M185.3,78.5v1.5M187.6,78.5v1.5M189.9,78.5v1.5M192.2,78.5v1.5M194.5,78.5v1.5M196.8,78.5v1.5M199.1,78.5v1.5M201.4,78.5v1.5M203.7,78.5v1.5M206.0,78.5v1.5M208.3,78.5v1.5M210.6,78.5v1.5M212.9,78.5v1.5M215.2,78.5v1.5M217.5,78.5v1.5M219.8,78.5v1.5M222.1,78.5v1.5M224.4,78.5v1.5M226.7,78.5v1.5M229.0,78.5v1.5M231.3,78.4v1.5M233.6,78.4v1.5M235.9,78.4v1.5M238.2,78.4v1.5M240.5,78.4v1.5M242.8,78.4v1.5M245.1,78.4v1.5M247.4,78.3v1.5M249.7,78.3v1.5M252.0,78.3v1.5M254.3,78.3v1.5M256.6,78.2v1.5M258.9,78.2v1.5M261.2,78.2v1.5M263.5,78.1v1.5M265.8,78.1v1.5M268.1,78.1v1.5M270.4,78.0v1.5M272.7,78.0v1.5M275.0,78.0v1.5M45.0,86.5v1.5M47.3,86.5v1.5M49.6,86.5v1.5M51.9,86.5v1.5M54.2,86.5v1.5M56.5,86.5v1.5M58.8,86.5v1.5M61.1,86.5v1.5M63.4,86.5v1.5M65.7,86.5v1.5M68.0,86.5v1.5M70.3,86.5v1.5M72.6,86.5v1.5M74.9,86.5v1.5M77.2,86.5v1.5M79.5,86.5v1.5M81.8,86.5v1.5M84.1,86.5v1.5M86.4,86.5v1.5M88.7,86.5v1.5M91.0,86.5v1.5M93.3,86.6v1.5M95.6,86.6v1.5M97.9,86.6v1.5M100.2,86.6v1.5M102.5,86.6v1.5M104.8,86.7v1.5M107.1,86.7v1.5M109.4,86.8v1.5M111.7,86.8v1.5M114.0,86.9v1.5M116.3,86.9v1.5M118.6,87.0v1.5M120.9,87.0v1.5M123.2,87.1v1.5M125.5,87.2v1.5M127.8,87.2v1.5M130.1,87.3v1.5M132.4,87.3v1.5M134.7,87.4v1.5M137.0,87.4v1.5M139.3,87.5v1.5M141.6,87.5v1.5M143.9,87.5v1.5M146.2,87.5v1.5M148.5,87.5v1.5M150.8,87.5v1.5M153.1,87.5v1.5M155.4,87.5v1.5M157.7,87.5v1.5M160.0,87.5v1.5M162.3,87.5v1.5M164.6,87.5v1.5M166.9,87.5v1.5M169.2,87.5v1.5M171.5,87.5v1.5M173.8,87.5v1.5M176.1,87.5v1.5M178.4,87.5v1.5M180.7,87.5v1.5M183.0,87.5v1.5M185.3,87.5v1.5M187.6,87.5v1.5M189.9,87.5v1.5M192.2,87.5v1.5M194.5,87.5v1.5M196.8,87.5v1.5M199.1,87.5v1.5M201.4,87.5v1.5M203.7,87.5v1.5M206.0,87.5v1.5M208.3,87.5v1.5M210.6,87.5v1.5M212.9,87.5v1.5M215.2,87.5v1.5M217.5,87.5v1.5M219.8,87.5v1.5M222.1,87.5v1.5M224.4,87.5v1.5M226.7,87.5v1.5M229.0,87.5v1.5M231.3,87.5v1.5M233.6,87.5v1.5M235.9,87.5v1.5M238.2,87.5v1.5M240.5,87.5v1.5M242.8,87.5v1.5M245.1,87.5v1.5M247.4,87.5v1.5M249.7,87.4v1.5M252.0,87.4v1.5M254.3,87.4v1.5M256.6,87.4v1.5M258.9,87.4v1.5M261.2,87.4v1.5M263.5,87.4v1.5M265.8,87.4v1.5M268.1,87.4v1.5M270.4,87.4v1.5M272.7,87.4v1.5M275.0,87.3v1.5M45.0,91.8v1.5M47.3,91.8v1.5M49.6,91.8v1.5M51.9,91.8v1.5M54.2,91.8v1.5M56.5,91.8v1.5M58.8,91.8v1.5M61.1,91.8v1.5M63.4,91.8v1.5M65.7,91.8v1.5M68.0,91.8v1.5M70.3,91.8v1.5M72.6,91.8v1.5M74.9,91.8v1.5M77.2,91.8v1.5M79.5,91.8v1.5M81.8,91.8v1.5M84.1,91.8v1.5M86.4,91.6v1.5M88.7,91.1v1.5M91.0,90.5v1.5M93.3,90.2v1.5M95.6,90.1v1.5M97.9,90.1v1.5M100.2,90.1v1.5M102.5,90.1v1.5M104.8,90.1v1.5M107.1,90.1v1.5M109.4,90.2v1.5M111.7,90.2v1.5M114.0,90.3v1.5M116.3,90.3v1.5M118.6,90.4v1.5M120.9,90.5v1.5M123.2,90.6v1.5M125.5,90.6v1.5M127.8,90.7v1.5M130.1,90.8v1.5M132.4,90.8v1.5M134.7,90.9v1.5M137.0,91.0v1.5M139.3,91.0v1.5M141.6,91.1v1.5M143.9,91.2v1.5M146.2,91.2v1.5M148.5,91.2v1.5M150.8,91.3v1.5M153.1,91.3v1.5M155.4,91.3v1.5M157.7,91.3v1.5M160.0,91.3v1.5M162.3,91.3v1.5M164.6,91.3v1.5M166.9,91.3v1.5M169.2,91.3v1.5M171.5,91.3v1.5M173.8,91.3v1.5M176.1,91.3v1.5M178.4,91.3v1.5M180.7,91.3v1.5M183.0,91.3v1.5M185.3,91.3v1.5M187.6,91.3v1.5M189.9,91.3v1.5M192.2,91.3v1.5M194.5,91.3v1.5M196.8,91.3v1.5M199.1,91.3v1.5M201.4,91.3v1.5M203.7,91.3v1.5M206.0,91.3v1.5M208.3,91.3v1.5M210.6,91.3v1.5M212.9,91.3v1.5M215.2,91.3v1.5M217.5,91.3v1.5M219.8,91.3v1.5M222.1,91.3v1.5M224.4,91.3v1.5M226.7,91.3v1.5M229.0,91.3v1.5M231.3,91.3v1.5M233.6,91.3v1.5M235.9,91.3v1.5M238.2,91.3v1.5M240.5,91.3v1.5M242.8,91.3v1.5M245.1,91.3v1.5M247.4,91.3v1.5M249.7,91.3v1.5M252.0,91.3v1.5M254.3,91.3v1.5M256.6,91.3v1.5M258.9,91.3v1.5M261.2,91.3v1.5M263.5,91.3v1.5M265.8,91.3v1.5M268.1,91.3v1.5M270.4,91.3v1.5M272.7,91.3v1.5M275.0,91.3v1.5M45.0,99.0v1.5M47.3,101.8v1.5M49.6,103.6v1.5M51.9,104.8v1.5M54.2,105.2v1.5M56.5,105.2v1.5M58.8,105.0v1.5M61.1,104.8v1.5M63.4,104.2v1.5M65.7,103.4v1.5M68.0,102.3v1.5M70.3,101.1v1.5M72.6,100.0v1.5M74.9,99.1v1.5M77.2,98.2v1.5M79.5,97.3v1.5M81.8,97.6v1.5M84.1,98.9v1.5M86.4,101.4v1.5M88.7,104.9v1.5M91.0,117.2v1.5M93.3,127.4v1.5M95.6,132.9v1.5M97.9,135.2v1.5M100.2,136.4v1.5M102.5,137.3v1.5M104.8,137.7v1.5M107.1,137.9v1.5M109.4,138.1v1.5M111.7,138.2v1.5M114.0,138.4v1.5M116.3,138.5v1.5M118.6,138.6v1.5M120.9,138.6v1.5M123.2,138.7v1.5M125.5,138.7v1.5M127.8,138.7v1.5M130.1,138.7v1.5M132.4,138.7v1.5M134.7,138.7v1.5M137.0,138.7v1.5M139.3,138.7v1.5M141.6,138.7v1.5M143.9,138.7v1.5M146.2,138.7v1.5M148.5,138.7v1.5M150.8,138.7v1.5M153.1,138.7v1.5M155.4,138.7v1.5M157.7,138.7v1.5M160.0,138.7v1.5M162.3,138.7v1.5M164.6,138.7v1.5M166.9,138.7v1.5M169.2,138.7v1.5M171.5,138.7v1.5M173.8,138.7v1.5M176.1,138.7v1.5M178.4,138.7v1.5M180.7,138.7v1.5M183.0,138.7v1.5M185.3,138.7v1.5M187.6,138.7v1.5M189.9,138.7v1.5M192.2,138.7v1.5M194.5,138.7v1.5M196.8,138.7v1.5M199.1,138.7v1.5M201.4,138.7v1.5M203.7,138.7v1.5M206.0,138.7v1.5M208.3,138.7v1.5M210.6,138.7v1.5M212.9,138.7v1.5M215.2,138.7v1.5M217.5,138.7v1.5M219.8,138.7v1.5M222.1,138.7v1.5M224.4,138.7v1.5M226.7,138.7v1.5M229.0,138.7v1.5M231.3,138.7v1.5M233.6,138.7v1.5M235.9,138.7v1.5M238.2,138.7v1.5M240.5,138.7v1.5M242.8,138.7v1.5M245.1,138.7v1.5M247.4,138.7v1.5M249.7,138.7v1.5M252.0,138.7v1.5M254.3,138.7v1.5M256.6,138.7v1.5M258.9,138.7v1.5M261.2,138.7v1.5M263.5,138.7v1.5M265.8,138.7v1.5M268.1,138.7v1.5M270.4,138.7v1.5M272.7,138.7v1.5M275.0,138.7v1.5M45.0,113.1v1.5M47.3,112.7v1.5M49.6,112.2v1.5M51.9,111.7v1.5M54.2,111.2v1.5M56.5,110.6v1.5M58.8,110.1v1.5M61.1,109.5v1.5M63.4,108.9v1.5M65.7,108.5v1.5M68.0,108.1v1.5M70.3,107.6v1.5M72.6,106.6v1.5M74.9,104.0v1.5M77.2,101.0v1.5M79.5,98.4v1.5M81.8,97.1v1.5M84.1,96.2v1.5M86.4,95.0v1.5M88.7,93.9v1.5M91.0,93.0v1.5M93.3,92.2v1.5M95.6,91.8v1.5M97.9,91.4v1.5M100.2,91.3v1.5M102.5,91.3v1.5M104.8,91.3v1.5M107.1,91.3v1.5M109.4,91.3v1.5M111.7,91.3v1.5M114.0,91.3v1.5M116.3,91.3v1.5M118.6,91.3v1.5M120.9,91.3v1.5M123.2,91.3v1.5M125.5,91.4v1.5M127.8,91.4v1.5M130.1,91.4v1.5M132.4,91.4v1.5M134.7,91.4v1.5M137.0,91.4v1.5M139.3,91.4v1.5M141.6,91.4v1.5M143.9,91.4v1.5M146.2,91.4v1.5M148.5,91.4v1.5M150.8,91.4v1.5M153.1,91.4v1.5M155.4,91.4v1.5M157.7,91.4v1.5M160.0,91.4v1.5M162.3,91.4v1.5M164.6,91.4v1.5M166.9,91.4v1.5M169.2,91.4v1.5M171.5,91.4v1.5M173.8,91.4v1.5M176.1,91.4v1.5M178.4,91.4v1.5M180.7,91.4v1.5M183.0,91.4v1.5M185.3,91.4v1.5M187.6,91.4v1.5M189.9,91.4v1.5M192.2,91.4v1.5M194.5,91.4v1.5M196.8,91.4v1.5M199.1,91.4v1.5M201.4,91.4v1.5M203.7,91.4v1.5M206.0,91.4v1.5M208.3,91.4v1.5M210.6,91.4v1.5M212.9,91.4v1.5M215.2,91.4v1.5M217.5,91.4v1.5M219.8,91.4v1.5M222.1,91.4v1.5M224.4,91.4v1.5M226.7,91.4v1.5M229.0,91.4v1.5M231.3,91.4v1.5M233.6,91.4v1.5M235.9,91.4v1.5M238.2,91.4v1.5M240.5,91.4v1.5M242.8,91.4v1.5M245.1,91.4v1.5M247.4,91.4v1.5M249.7,91.4v1.5M252.0,91.4v1.5M254.3,91.4v1.5M256.6,91.4v1.5M258.9,91.4v1.5M261.2,91.4v1.5M263.5,91.4v1.5M265.8,91.4v1.5M268.1,91.4v1.5M270.4,91.4v1.5M272.7,91.4v1.5M275.0,91.3v1.5M45.0,209.2v1.5M47.3,206.7v1.5M49.6,204.6v1.5M51.9,202.9v1.5M54.2,201.6v1.5M56.5,200.0v1.5M58.8,198.3v1.5M61.1,197.0v1.5M63.4,195.9v1.5M65.7,195.1v1.5M68.0,194.8v1.5M70.3,194.6v1.5M72.6,194.8v1.5M74.9,195.8v1.5M77.2,197.0v1.5M79.5,198.6v1.5M81.8,200.3v1.5M84.1,202.2v1.5M86.4,204.4v1.5M88.7,206.7v1.5M91.0,208.9v1.5M93.3,208.5v1.5M95.6,207.8v1.5M97.9,207.8v1.5M100.2,207.8v1.5M102.5,207.9v1.5M104.8,208.0v1.5M107.1,208.2v1.5M109.4,208.5v1.5M111.7,208.6v1.5M114.0,208.7v1.5M116.3,208.8v1.5M118.6,208.9v1.5M120.9,208.9v1.5M123.2,209.0v1.5M125.5,209.0v1.5M127.8,209.1v1.5M130.1,209.1v1.5M132.4,209.1v1.5M134.7,209.1v1.5M137.0,209.2v1.5M139.3,209.1v1.5M141.6,209.1v1.5M143.9,209.1v1.5M146.2,209.1v1.5M148.5,209.1v1.5M150.8,209.0v1.5M153.1,209.0v1.5M155.4,208.9v1.5M157.7,208.9v1.5M160.0,208.8v1.5M162.3,208.8v1.5M164.6,208.7v1.5M166.9,208.6v1.5M169.2,208.6v1.5M171.5,208.5v1.5M173.8,208.4v1.5M176.1,208.3v1.5M178.4,208.2v1.5M180.7,208.1v1.5M183.0,208.0v1.5M185.3,207.8v1.5M187.6,207.7v1.5M189.9,207.6v1.5M192.2,207.4v1.5M194.5,207.3v1.5M196.8,207.2v1.5M199.1,207.2v1.5M201.4,207.1v1.5M203.7,207.1v1.5M206.0,207.0v1.5M208.3,207.0v1.5M210.6,207.0v1.5M212.9,206.9v1.5M215.2,206.9v1.5M217.5,206.9v1.5M219.8,206.9v1.5M222.1,206.8v1.5M224.4,206.8v1.5M226.7,206.8v1.5M229.0,206.7v1.5M231.3,206.7v1.5M233.6,206.7v1.5M235.9,206.6v1.5M238.2,206.6v1.5M240.5,206.5v1.5M242.8,206.5v1.5M245.1,206.4v1.5M247.4,206.3v1.5M249.7,206.3v1.5M252.0,206.2v1.5M254.3,206.1v1.5M256.6,206.0v1.5M258.9,205.8v1.5M261.2,205.7v1.5M263.5,205.6v1.5M265.8,205.5v1.5M268.1,205.4v1.5M270.4,205.2v1.5M272.7,205.1v1.5M275.0,204.9v1.5M45.0,198.8v1.5M47.3,201.7v1.5M49.6,203.6v1.5M51.9,204.8v1.5M54.2,205.6v1.5M56.5,206.1v1.5M58.8,206.6v1.5M61.1,207.0v1.5M63.4,207.5v1.5M65.7,207.9v1.5M68.0,208.1v1.5M70.3,208.2v1.5M72.6,208.0v1.5M74.9,207.2v1.5M77.2,205.6v1.5M79.5,203.7v1.5M81.8,201.4v1.5M84.1,199.1v1.5M86.4,196.9v1.5M88.7,194.9v1.5M91.0,192.7v1.5M93.3,190.3v1.5M95.6,188.9v1.5M97.9,188.4v1.5M100.2,188.2v1.5M102.5,188.2v1.5M104.8,188.5v1.5M107.1,188.9v1.5M109.4,189.4v1.5M111.7,189.9v1.5M114.0,190.6v1.5M116.3,191.4v1.5M118.6,192.3v1.5M120.9,193.2v1.5M123.2,194.2v1.5M125.5,195.2v1.5M127.8,196.2v1.5M130.1,197.3v1.5M132.4,198.3v1.5M134.7,199.3v1.5M137.0,200.2v1.5M139.3,200.9v1.5M141.6,201.4v1.5M143.9,202.0v1.5M146.2,202.6v1.5M148.5,203.1v1.5M150.8,203.6v1.5M153.1,204.0v1.5M155.4,204.4v1.5M157.7,204.7v1.5M160.0,205.1v1.5M162.3,205.5v1.5M164.6,205.8v1.5M166.9,205.9v1.5M169.2,206.0v1.5M171.5,206.0v1.5M173.8,206.1v1.5M176.1,206.1v1.5M178.4,206.1v1.5M180.7,206.1v1.5M183.0,206.1v1.5M185.3,206.1v1.5M187.6,206.1v1.5M189.9,206.1v1.5M192.2,206.0v1.5M194.5,206.0v1.5M196.8,205.9v1.5M199.1,205.9v1.5M201.4,205.8v1.5M203.7,205.8v1.5M206.0,205.8v1.5M208.3,205.8v1.5M210.6,205.7v1.5M212.9,205.7v1.5M215.2,205.7v1.5M217.5,205.7v1.5M219.8,205.7v1.5M222.1,205.6v1.5M224.4,205.6v1.5M226.7,205.6v1.5M229.0,205.6v1.5M231.3,205.6v1.5M233.6,205.5v1.5M235.9,205.5v1.5M238.2,205.5v1.5M240.5,205.4v1.5M242.8,205.4v1.5M245.1,205.4v1.5M247.4,205.3v1.5M249.7,205.2v1.5M252.0,205.2v1.5M254.3,205.1v1.5M256.6,205.0v1.5M258.9,205.0v1.5M261.2,204.9v1.5M263.5,204.8v1.5M265.8,204.7v1.5M268.1,204.6v1.5M270.4,204.5v1.5M272.7,204.4v1.5M275.0,204.4v1.5M45.0,197.8v1.5M47.3,191.6v1.5M49.6,189.9v1.5M51.9,189.0v1.5M54.2,188.4v1.5M56.5,187.6v1.5M58.8,186.8v1.5M61.1,186.2v1.5M63.4,185.6v1.5M65.7,185.1v1.5M68.0,184.5v1.5M70.3,183.8v1.5M72.6,183.2v1.5M74.9,182.8v1.5M77.2,182.5v1.5M79.5,183.6v1.5M81.8,186.1v1.5M84.1,188.4v1.5M86.4,190.6v1.5M88.7,192.7v1.5M91.0,194.5v1.5M93.3,196.1v1.5M95.6,197.3v1.5M97.9,198.3v1.5M100.2,199.2v1.5M102.5,199.9v1.5M104.8,200.5v1.5M107.1,201.0v1.5M109.4,201.5v1.5M111.7,202.0v1.5M114.0,202.4v1.5M116.3,202.8v1.5M118.6,203.1v1.5M120.9,203.4v1.5M123.2,203.7v1.5M125.5,204.0v1.5M127.8,204.4v1.5M130.1,204.8v1.5M132.4,205.1v1.5M134.7,205.5v1.5M137.0,205.8v1.5M139.3,206.0v1.5M141.6,206.2v1.5M143.9,206.4v1.5M146.2,206.5v1.5M148.5,206.7v1.5M150.8,206.8v1.5M153.1,206.9v1.5M155.4,207.1v1.5M157.7,207.2v1.5M160.0,207.4v1.5M162.3,207.5v1.5M164.6,207.5v1.5M166.9,207.6v1.5M169.2,207.6v1.5M171.5,207.6v1.5M173.8,207.6v1.5M176.1,207.6v1.5M178.4,207.6v1.5M180.7,207.6v1.5M183.0,207.5v1.5M185.3,207.5v1.5M187.6,207.5v1.5M189.9,207.4v1.5M192.2,207.4v1.5M194.5,207.3v1.5M196.8,207.2v1.5M199.1,207.2v1.5M201.4,207.1v1.5M203.7,207.1v1.5M206.0,207.1v1.5M208.3,207.0v1.5M210.6,207.0v1.5M212.9,207.0v1.5M215.2,206.9v1.5M217.5,206.9v1.5M219.8,206.9v1.5M222.1,206.8v1.5M224.4,206.8v1.5M226.7,206.8v1.5M229.0,206.8v1.5M231.3,206.7v1.5M233.6,206.7v1.5M235.9,206.6v1.5M238.2,206.6v1.5M240.5,206.5v1.5M242.8,206.5v1.5M245.1,206.4v1.5M247.4,206.3v1.5M249.7,206.3v1.5M252.0,206.2v1.5M254.3,206.1v1.5M256.6,206.0v1.5M258.9,205.8v1.5M261.2,205.7v1.5M263.5,205.6v1.5M265.8,205.5v1.5M268.1,205.4v1.5M270.4,205.2v1.5M272.7,205.1v1.5M275.0,204.9v1.5M45.0,182.2v1.5M47.3,182.2v1.5M49.6,182.2v1.5M51.9,182.2v1.5M54.2,182.2v1.5M56.5,182.2v1.5M58.8,182.2v1.5M61.1,182.2v1.5M63.4,182.2v1.5M65.7,182.2v1.5M68.0,182.2v1.5M70.3,182.2v1.5M72.6,182.2v1.5M74.9,182.2v1.5M77.2,182.1v1.5M79.5,182.1v1.5M81.8,182.0v1.5M84.1,181.8v1.5M86.4,181.4v1.5M88.7,180.3v1.5M91.0,179.4v1.5M93.3,178.6v1.5M95.6,178.6v1.5M97.9,179.8v1.5M100.2,181.3v1.5M102.5,182.5v1.5M104.8,183.7v1.5M107.1,184.8v1.5M109.4,185.7v1.5M111.7,186.5v1.5M114.0,187.4v1.5M116.3,188.6v1.5M118.6,189.8v1.5M120.9,190.8v1.5M123.2,191.6v1.5M125.5,192.5v1.5M127.8,193.5v1.5M130.1,194.7v1.5M132.4,195.9v1.5M134.7,196.9v1.5M137.0,197.7v1.5M139.3,198.2v1.5M141.6,198.6v1.5M143.9,199.2v1.5M146.2,199.9v1.5M148.5,200.6v1.5M150.8,201.2v1.5M153.1,201.7v1.5M155.4,202.2v1.5M157.7,202.6v1.5M160.0,203.1v1.5M162.3,203.6v1.5M164.6,204.0v1.5M166.9,204.4v1.5M169.2,204.7v1.5M171.5,205.0v1.5M173.8,205.1v1.5M176.1,205.3v1.5M178.4,205.3v1.5M180.7,205.4v1.5M183.0,205.5v1.5M185.3,205.5v1.5M187.6,205.6v1.5M189.9,205.7v1.5M192.2,205.7v1.5M194.5,205.8v1.5M196.8,205.8v1.5M199.1,205.8v1.5M201.4,205.8v1.5M203.7,205.8v1.5M206.0,205.8v1.5M208.3,205.8v1.5M210.6,205.8v1.5M212.9,205.8v1.5M215.2,205.8v1.5M217.5,205.8v1.5M219.8,205.7v1.5M222.1,205.7v1.5M224.4,205.7v1.5M226.7,205.6v1.5M229.0,205.6v1.5M231.3,205.6v1.5M233.6,205.5v1.5M235.9,205.5v1.5M238.2,205.5v1.5M240.5,205.4v1.5M242.8,205.4v1.5M245.1,205.4v1.5M247.4,205.3v1.5M249.7,205.2v1.5M252.0,205.2v1.5M254.3,205.1v1.5M256.6,205.0v1.5M258.9,205.0v1.5M261.2,204.9v1.5M263.5,204.8v1.5M265.8,204.7v1.5M268.1,204.6v1.5M270.4,204.5v1.5M272.7,204.4v1.5M275.0,204.4v1.5M45.0,179.8v1.5M47.3,179.7v1.5M49.6,179.7v1.5M51.9,179.7v1.5M54.2,179.7v1.5M56.5,179.7v1.5M58.8,179.7v1.5M61.1,179.7v1.5M63.4,179.7v1.5M65.7,179.7v1.5M68.0,179.7v1.5M70.3,179.7v1.5M72.6,179.7v1.5M74.9,179.6v1.5M77.2,179.6v1.5M79.5,179.6v1.5M81.8,179.6v1.5M84.1,179.6v1.5M86.4,179.5v1.5M88.7,179.5v1.5M91.0,179.4v1.5M93.3,179.3v1.5M95.6,179.3v1.5M97.9,179.3v1.5M100.2,179.3v1.5M102.5,179.3v1.5M104.8,179.3v1.5M107.1,179.2v1.5M109.4,179.2v1.5M111.7,179.1v1.5M114.0,179.0v1.5M116.3,178.9v1.5M118.6,178.8v1.5M120.9,178.7v1.5M123.2,178.6v1.5M125.5,178.5v1.5M127.8,178.4v1.5M130.1,178.3v1.5M132.4,178.1v1.5M134.7,178.0v1.5M137.0,177.9v1.5M139.3,177.7v1.5M141.6,177.6v1.5M143.9,177.5v1.5M146.2,177.4v1.5M148.5,177.4v1.5M150.8,177.3v1.5M153.1,177.3v1.5M155.4,177.3v1.5M157.7,177.2v1.5M160.0,177.2v1.5M162.3,177.1v1.5M164.6,177.1v1.5M166.9,177.1v1.5M169.2,177.0v1.5M171.5,177.0v1.5M173.8,177.0v1.5M176.1,176.9v1.5M178.4,176.9v1.5M180.7,176.9v1.5M183.0,176.8v1.5M185.3,176.8v1.5M187.6,176.8v1.5M189.9,176.8v1.5M192.2,176.7v1.5M194.5,176.7v1.5M196.8,176.7v1.5M199.1,176.7v1.5M201.4,176.7v1.5M203.7,176.6v1.5M206.0,176.6v1.5M208.3,176.6v1.5M210.6,176.6v1.5M212.9,176.6v1.5M215.2,176.6v1.5M217.5,176.6v1.5M219.8,176.6v1.5M222.1,176.6v1.5M224.4,176.6v1.5M226.7,176.6v1.5M229.0,176.6v1.5M231.3,176.6v1.5M233.6,176.6v1.5M235.9,176.6v1.5M238.2,176.6v1.5M240.5,176.6v1.5M242.8,176.6v1.5M245.1,176.6v1.5M247.4,176.6v1.5M249.7,176.6v1.5M252.0,176.6v1.5M254.3,176.6v1.5M256.6,176.6v1.5M258.9,176.6v1.5M261.2,176.6v1.5M263.5,176.6v1.5M265.8,176.6v1.5M268.1,176.6v1.5M270.4,176.6v1.5M272.7,176.6v1.5M275.0,176.7v1.5M45.0,176.8v1.5M47.3,176.8v1.5M49.6,176.8v1.5M51.9,176.8v1.5M54.2,176.8v1.5M56.5,176.8v1.5M58.8,176.8v1.5M61.1,176.8v1.5M63.4,176.8v1.5M65.7,176.8v1.5M68.0,176.8v1.5M70.3,176.8v1.5M72.6,176.8v1.5M74.9,176.8v1.5M77.2,176.8v1.5M79.5,176.8v1.5M81.8,176.8v1.5M84.1,176.8v1.5M86.4,176.7v1.5M88.7,176.7v1.5M91.0,176.7v1.5M93.3,176.7v1.5M95.6,176.7v1.5M97.9,176.7v1.5M100.2,176.7v1.5M102.5,176.7v1.5M104.8,176.7v1.5M107.1,176.7v1.5M109.4,176.7v1.5M111.7,176.7v1.5M114.0,176.7v1.5M116.3,176.7v1.5M118.6,176.7v1.5M120.9,176.8v1.5M123.2,176.8v1.5M125.5,176.8v1.5M127.8,176.8v1.5M130.1,176.8v1.5M132.4,176.8v1.5M134.7,176.8v1.5M137.0,176.8v1.5M139.3,176.8v1.5M141.6,176.8v1.5M143.9,176.8v1.5M146.2,176.8v1.5M148.5,176.8v1.5M150.8,176.8v1.5M153.1,176.8v1.5M155.4,176.8v1.5M157.7,176.8v1.5M160.0,176.8v1.5M162.3,176.8v1.5M164.6,176.8v1.5M166.9,176.8v1.5M169.2,176.8v1.5M171.5,176.8v1.5M173.8,176.8v1.5M176.1,176.8v1.5M178.4,176.8v1.5M180.7,176.8v1.5M183.0,176.7v1.5M185.3,176.7v1.5M187.6,176.7v1.5M189.9,176.7v1.5M192.2,176.7v1.5M194.5,176.7v1.5M196.8,176.7v1.5M199.1,176.6v1.5M201.4,176.6v1.5M203.7,176.6v1.5M206.0,176.6v1.5M208.3,176.6v1.5M210.6,176.6v1.5M212.9,176.6v1.5M215.2,176.6v1.5M217.5,176.6v1.5M219.8,176.6v1.5M222.1,176.6v1.5M224.4,176.6v1.5M226.7,176.6v1.5M229.0,176.6v1.5M231.3,176.6v1.5M233.6,176.6v1.5M235.9,176.6v1.5M238.2,176.6v1.5M240.5,176.6v1.5M242.8,176.6v1.5M245.1,176.6v1.5M247.4,176.6v1.5M249.7,176.6v1.5M252.0,176.6v1.5M254.3,176.6v1.5M256.6,176.6v1.5M258.9,176.6v1.5M261.2,176.6v1.5M263.5,176.6v1.5M265.8,176.6v1.5M268.1,176.6v1.5M270.4,176.6v1.5M272.7,176.6v1.5M275.0,176.7v1.5M45.0,174.2v1.5M47.3,174.2v1.5M49.6,174.2v1.5M51.9,174.2v1.5M54.2,174.2v1.5M56.5,174.2v1.5M58.8,174.2v1.5M61.1,174.2v1.5M63.4,174.2v1.5M65.7,174.2v1.5M68.0,174.2v1.5M70.3,174.2v1.5M72.6,174.2v1.5M74.9,174.2v1.5M77.2,174.2v1.5M79.5,174.2v1.5M81.8,174.2v1.5M84.1,174.2v1.5M86.4,174.1v1.5M88.7,173.8v1.5M91.0,173.6v1.5M93.3,173.4v1.5M95.6,173.4v1.5M97.9,173.4v1.5M100.2,173.5v1.5M102.5,173.5v1.5M104.8,173.5v1.5M107.1,173.6v1.5M109.4,173.7v1.5M111.7,173.8v1.5M114.0,173.8v1.5M116.3,173.9v1.5M118.6,173.9v1.5M120.9,173.9v1.5M123.2,173.9v1.5M125.5,173.9v1.5M127.8,173.9v1.5M130.1,173.8v1.5M132.4,173.8v1.5M134.7,173.7v1.5M137.0,173.6v1.5M139.3,173.6v1.5M141.6,173.5v1.5M143.9,173.4v1.5M146.2,173.3v1.5M148.5,173.3v1.5M150.8,173.2v1.5M153.1,173.2v1.5M155.4,173.1v1.5M157.7,173.1v1.5M160.0,173.0v1.5M162.3,172.9v1.5M164.6,172.9v1.5M166.9,172.8v1.5M169.2,172.8v1.5M171.5,172.7v1.5M173.8,172.6v1.5M176.1,172.6v1.5M178.4,172.5v1.5M180.7,172.5v1.5M183.0,172.4v1.5M185.3,172.4v1.5M187.6,172.3v1.5M189.9,172.3v1.5M192.2,172.3v1.5M194.5,172.2v1.5M196.8,172.2v1.5M199.1,172.2v1.5M201.4,172.1v1.5M203.7,172.1v1.5M206.0,172.1v1.5M208.3,172.1v1.5M210.6,172.1v1.5M212.9,172.1v1.5M215.2,172.0v1.5M217.5,172.0v1.5M219.8,172.0v1.5M222.1,172.0v1.5M224.4,172.0v1.5M226.7,172.0v1.5M229.0,172.0v1.5M231.3,171.9v1.5M233.6,171.9v1.5M235.9,171.9v1.5M238.2,171.9v1.5M240.5,171.9v1.5M242.8,171.8v1.5M245.1,171.8v1.5M247.4,171.8v1.5M249.7,171.8v1.5M252.0,171.7v1.5M254.3,171.7v1.5M256.6,171.7v1.5M258.9,171.7v1.5M261.2,171.6v1.5M263.5,171.6v1.5M265.8,171.6v1.5M268.1,171.5v1.5M270.4,171.5v1.5M272.7,171.5v1.5M275.0,171.5v1.5M45.0,171.7v1.5M47.3,171.7v1.5M49.6,171.7v1.5M51.9,171.7v1.5M54.2,171.7v1.5M56.5,171.7v1.5M58.8,171.7v1.5M61.1,171.7v1.5M63.4,171.7v1.5M65.7,171.7v1.5M68.0,171.7v1.5M70.3,171.7v1.5M72.6,171.7v1.5M74.9,171.7v1.5M77.2,171.7v1.5M79.5,171.7v1.5M81.8,171.7v1.5M84.1,171.7v1.5M86.4,171.6v1.5M88.7,171.3v1.5M91.0,170.9v1.5M93.3,170.8v1.5M95.6,170.8v1.5M97.9,170.8v1.5M100.2,170.8v1.5M102.5,170.8v1.5M104.8,170.8v1.5M107.1,170.9v1.5M109.4,170.9v1.5M111.7,171.0v1.5M114.0,171.1v1.5M116.3,171.2v1.5M118.6,171.2v1.5M120.9,171.3v1.5M123.2,171.3v1.5M125.5,171.4v1.5M127.8,171.4v1.5M130.1,171.5v1.5M132.4,171.5v1.5M134.7,171.5v1.5M137.0,171.6v1.5M139.3,171.6v1.5M141.6,171.7v1.5M143.9,171.7v1.5M146.2,171.7v1.5M148.5,171.7v1.5M150.8,171.8v1.5M153.1,171.8v1.5M155.4,171.8v1.5M157.7,171.8v1.5M160.0,171.8v1.5M162.3,171.8v1.5M164.6,171.8v1.5M166.9,171.9v1.5M169.2,171.9v1.5M171.5,171.9v1.5M173.8,171.9v1.5M176.1,171.9v1.5M178.4,171.9v1.5M180.7,171.9v1.5M183.0,171.9v1.5M185.3,171.9v1.5M187.6,171.9v1.5M189.9,171.9v1.5M192.2,171.9v1.5M194.5,171.9v1.5M196.8,171.9v1.5M199.1,171.9v1.5M201.4,171.9v1.5M203.7,171.9v1.5M206.0,171.9v1.5M208.3,171.9v1.5M210.6,171.9v1.5M212.9,171.9v1.5M215.2,171.9v1.5M217.5,171.9v1.5M219.8,171.9v1.5M222.1,171.9v1.5M224.4,171.9v1.5M226.7,171.9v1.5M229.0,171.9v1.5M231.3,171.9v1.5M233.6,171.9v1.5M235.9,171.9v1.5M238.2,171.9v1.5M240.5,171.9v1.5M242.8,171.9v1.5M245.1,171.9v1.5M247.4,171.9v1.5M249.7,171.8v1.5M252.0,171.8v1.5M254.3,171.8v1.5M256.6,171.7v1.5M258.9,171.7v1.5M261.2,171.7v1.5M263.5,171.6v1.5M265.8,171.6v1.5M268.1,171.6v1.5M270.4,171.5v1.5M272.7,171.5v1.5M275.0,171.4v1.5M45.0,168.7v1.5M47.3,168.7v1.5M49.6,168.7v1.5M51.9,168.7v1.5M54.2,168.7v1.5M56.5,168.7v1.5M58.8,168.7v1.5M61.1,168.7v1.5M63.4,168.7v1.5M65.7,168.7v1.5M68.0,168.7v1.5M70.3,168.7v1.5M72.6,168.7v1.5M74.9,168.7v1.5M77.2,168.7v1.5M79.5,168.7v1.5M81.8,168.7v1.5M84.1,168.7v1.5M86.4,168.6v1.5M88.7,168.2v1.5M91.0,167.8v1.5M93.3,167.7v1.5M95.6,167.7v1.5M97.9,167.7v1.5M100.2,167.7v1.5M102.5,167.7v1.5M104.8,167.8v1.5M107.1,167.9v1.5M109.4,168.1v1.5M111.7,168.2v1.5M114.0,168.4v1.5M116.3,168.5v1.5M118.6,168.5v1.5M120.9,168.5v1.5M123.2,168.5v1.5M125.5,168.5v1.5M127.8,168.5v1.5M130.1,168.5v1.5M132.4,168.5v1.5M134.7,168.5v1.5M137.0,168.5v1.5M139.3,168.5v1.5M141.6,168.5v1.5M143.9,168.5v1.5M146.2,168.5v1.5M148.5,168.5v1.5M150.8,168.4v1.5M153.1,168.4v1.5M155.4,168.4v1.5M157.7,168.4v1.5M160.0,168.4v1.5M162.3,168.3v1.5M164.6,168.3v1.5M166.9,168.3v1.5M169.2,168.2v1.5M171.5,168.2v1.5M173.8,168.2v1.5M176.1,168.1v1.5M178.4,168.1v1.5M180.7,168.1v1.5M183.0,168.0v1.5M185.3,168.0v1.5M187.6,168.0v1.5M189.9,167.9v1.5M192.2,167.9v1.5M194.5,167.9v1.5M196.8,167.9v1.5M199.1,167.9v1.5M201.4,167.8v1.5M203.7,167.8v1.5M206.0,167.8v1.5M208.3,167.8v1.5M210.6,167.8v1.5M212.9,167.8v1.5M215.2,167.8v1.5M217.5,167.8v1.5M219.8,167.8v1.5M222.1,167.8v1.5M224.4,167.8v1.5M226.7,167.8v1.5M229.0,167.8v1.5M231.3,167.7v1.5M233.6,167.7v1.5M235.9,167.7v1.5M238.2,167.7v1.5M240.5,167.7v1.5M242.8,167.7v1.5M245.1,167.7v1.5M247.4,167.6v1.5M249.7,167.6v1.5M252.0,167.6v1.5M254.3,167.6v1.5M256.6,167.6v1.5M258.9,167.5v1.5M261.2,167.5v1.5M263.5,167.5v1.5M265.8,167.5v1.5M268.1,167.4v1.5M270.4,167.4v1.5M272.7,167.4v1.5M275.0,167.3v1.5M45.0,154.8v1.5M47.3,156.3v1.5M49.6,157.4v1.5M51.9,158.0v1.5M54.2,158.5v1.5M56.5,158.8v1.5M58.8,159.1v1.5M61.1,159.3v1.5M63.4,159.5v1.5M65.7,159.6v1.5M68.0,159.9v1.5M70.3,160.3v1.5M72.6,160.8v1.5M74.9,161.6v1.5M77.2,162.4v1.5M79.5,163.1v1.5M81.8,163.9v1.5M84.1,164.7v1.5M86.4,165.2v1.5M88.7,164.9v1.5M91.0,164.4v1.5M93.3,164.2v1.5M95.6,164.2v1.5M97.9,164.2v1.5M100.2,164.2v1.5M102.5,164.2v1.5M104.8,164.4v1.5M107.1,164.7v1.5M109.4,165.0v1.5M111.7,165.3v1.5M114.0,165.7v1.5M116.3,165.9v1.5M118.6,166.2v1.5M120.9,166.3v1.5M123.2,166.4v1.5M125.5,166.5v1.5M127.8,166.6v1.5M130.1,166.7v1.5M132.4,166.7v1.5M134.7,166.8v1.5M137.0,166.9v1.5M139.3,166.9v1.5M141.6,167.0v1.5M143.9,167.0v1.5M146.2,167.1v1.5M148.5,167.1v1.5M150.8,167.2v1.5M153.1,167.2v1.5M155.4,167.2v1.5M157.7,167.3v1.5M160.0,167.3v1.5M162.3,167.4v1.5M164.6,167.4v1.5M166.9,167.4v1.5M169.2,167.5v1.5M171.5,167.5v1.5M173.8,167.5v1.5M176.1,167.6v1.5M178.4,167.6v1.5M180.7,167.6v1.5M183.0,167.7v1.5M185.3,167.7v1.5M187.6,167.7v1.5M189.9,167.7v1.5M192.2,167.7v1.5M194.5,167.7v1.5M196.8,167.7v1.5M199.1,167.7v1.5M201.4,167.8v1.5M203.7,167.8v1.5M206.0,167.8v1.5M208.3,167.8v1.5M210.6,167.8v1.5M212.9,167.8v1.5M215.2,167.8v1.5M217.5,167.8v1.5M219.8,167.8v1.5M222.1,167.8v1.5M224.4,167.8v1.5M226.7,167.8v1.5M229.0,167.8v1.5M231.3,167.7v1.5M233.6,167.7v1.5M235.9,167.7v1.5M238.2,167.7v1.5M240.5,167.7v1.5M242.8,167.7v1.5M245.1,167.7v1.5M247.4,167.7v1.5M249.7,167.7v1.5M252.0,167.6v1.5M254.3,167.6v1.5M256.6,167.6v1.5M258.9,167.6v1.5M261.2,167.5v1.5M263.5,167.5v1.5M265.8,167.5v1.5M268.1,167.4v1.5M270.4,167.4v1.5M272.7,167.4v1.5M275.0,167.3v1.5M45.0,166.3v1.5M47.3,165.8v1.5M49.6,165.2v1.5M51.9,164.4v1.5M54.2,163.7v1.5M56.5,163.0v1.5M58.8,162.3v1.5M61.1,161.5v1.5M63.4,160.9v1.5M65.7,160.2v1.5M68.0,159.5v1.5M70.3,158.8v1.5M72.6,158.1v1.5M74.9,157.5v1.5M77.2,156.8v1.5M79.5,156.0v1.5M81.8,155.1v1.5M84.1,154.3v1.5M86.4,153.8v1.5M88.7,154.1v1.5M91.0,154.6v1.5M93.3,154.8v1.5M95.6,154.8v1.5M97.9,154.8v1.5M100.2,154.8v1.5M102.5,154.8v1.5M104.8,154.8v1.5M107.1,154.7v1.5M109.4,154.7v1.5M111.7,154.6v1.5M114.0,154.5v1.5M116.3,154.5v1.5M118.6,154.4v1.5M120.9,154.3v1.5M123.2,154.3v1.5M125.5,154.2v1.5M127.8,154.2v1.5M130.1,154.1v1.5M132.4,154.1v1.5M134.7,154.1v1.5M137.0,154.0v1.5M139.3,154.0v1.5M141.6,153.9v1.5M143.9,153.9v1.5M146.2,153.8v1.5M148.5,153.8v1.5M150.8,153.7v1.5M153.1,153.7v1.5M155.4,153.6v1.5M157.7,153.6v1.5M160.0,153.5v1.5M162.3,153.5v1.5M164.6,153.4v1.5M166.9,153.3v1.5M169.2,153.3v1.5M171.5,153.2v1.5M173.8,153.2v1.5M176.1,153.1v1.5M178.4,153.0v1.5M180.7,153.0v1.5M183.0,152.9v1.5M185.3,152.9v1.5M187.6,152.8v1.5M189.9,152.7v1.5M192.2,152.7v1.5M194.5,152.6v1.5M196.8,152.6v1.5M199.1,152.5v1.5M201.4,152.4v1.5M203.7,152.4v1.5M206.0,152.3v1.5M208.3,152.3v1.5M210.6,152.2v1.5M212.9,152.1v1.5M215.2,152.1v1.5M217.5,152.0v1.5M219.8,152.0v1.5M222.1,151.9v1.5M224.4,151.9v1.5M226.7,151.8v1.5M229.0,151.8v1.5M231.3,151.7v1.5M233.6,151.7v1.5M235.9,151.6v1.5M238.2,151.6v1.5M240.5,151.5v1.5M242.8,151.5v1.5M245.1,151.5v1.5M247.4,151.4v1.5M249.7,151.4v1.5M252.0,151.3v1.5M254.3,151.3v1.5M256.6,151.2v1.5M258.9,151.2v1.5M261.2,151.2v1.5M263.5,151.1v1.5M265.8,151.1v1.5M268.1,151.1v1.5M270.4,151.0v1.5M272.7,151.0v1.5M275.0,151.0v1.5M45.0,166.2v1.5M47.3,165.6v1.5M49.6,165.0v1.5M51.9,164.6v1.5M54.2,164.1v1.5M56.5,163.8v1.5M58.8,163.4v1.5M61.1,163.1v1.5M63.4,162.8v1.5M65.7,162.5v1.5M68.0,162.2v1.5M70.3,162.0v1.5M72.6,161.8v1.5M74.9,161.6v1.5M77.2,161.4v1.5M79.5,161.1v1.5M81.8,160.8v1.5M84.1,160.8v1.5M86.4,160.8v1.5M88.7,161.0v1.5M91.0,161.3v1.5M93.3,161.4v1.5M95.6,161.4v1.5M97.9,161.4v1.5M100.2,161.4v1.5M102.5,161.4v1.5M104.8,161.4v1.5M107.1,161.3v1.5M109.4,161.1v1.5M111.7,161.0v1.5M114.0,160.8v1.5M116.3,160.7v1.5M118.6,160.5v1.5M120.9,160.4v1.5M123.2,160.2v1.5M125.5,160.1v1.5M127.8,159.9v1.5M130.1,159.7v1.5M132.4,159.6v1.5M134.7,159.4v1.5M137.0,159.2v1.5M139.3,159.0v1.5M141.6,158.8v1.5M143.9,158.7v1.5M146.2,158.5v1.5M148.5,158.3v1.5M150.8,158.2v1.5M153.1,158.1v1.5M155.4,157.9v1.5M157.7,157.8v1.5M160.0,157.6v1.5M162.3,157.5v1.5M164.6,157.3v1.5M166.9,157.2v1.5M169.2,157.0v1.5M171.5,156.9v1.5M173.8,156.7v1.5M176.1,156.6v1.5M178.4,156.4v1.5M180.7,156.3v1.5M183.0,156.1v1.5M185.3,156.0v1.5M187.6,155.9v1.5M189.9,155.7v1.5M192.2,155.6v1.5M194.5,155.5v1.5M196.8,155.3v1.5M199.1,155.2v1.5M201.4,155.1v1.5M203.7,155.0v1.5M206.0,154.9v1.5M208.3,154.8v1.5M210.6,154.7v1.5M212.9,154.6v1.5M215.2,154.5v1.5M217.5,154.4v1.5M219.8,154.4v1.5M222.1,154.3v1.5M224.4,154.3v1.5M226.7,154.2v1.5M229.0,154.2v1.5M231.3,154.1v1.5M233.6,154.1v1.5M235.9,154.1v1.5M238.2,154.0v1.5M240.5,154.0v1.5M242.8,154.0v1.5M245.1,154.0v1.5M247.4,153.9v1.5M249.7,153.9v1.5M252.0,153.9v1.5M254.3,153.9v1.5M256.6,153.8v1.5M258.9,153.8v1.5M261.2,153.8v1.5M263.5,153.8v1.5M265.8,153.8v1.5M268.1,153.8v1.5M270.4,153.8v1.5M272.7,153.8v1.5M275.0,153.7v1.5M45.0,154.8v1.5M47.3,155.4v1.5M49.6,155.9v1.5M51.9,156.5v1.5M54.2,157.0v1.5M56.5,157.6v1.5M58.8,158.1v1.5M61.1,158.2v1.5M63.4,158.0v1.5M65.7,157.6v1.5M68.0,157.1v1.5M70.3,156.3v1.5M72.6,155.7v1.5M74.9,155.2v1.5M77.2,154.8v1.5M79.5,154.5v1.5M81.8,154.2v1.5M84.1,154.1v1.5M86.4,154.4v1.5M88.7,155.8v1.5M91.0,157.4v1.5M93.3,158.1v1.5M95.6,158.1v1.5M97.9,158.1v1.5M100.2,158.0v1.5M102.5,158.0v1.5M104.8,158.0v1.5M107.1,158.0v1.5M109.4,158.0v1.5M111.7,158.0v1.5M114.0,157.9v1.5M116.3,157.9v1.5M118.6,157.9v1.5M120.9,157.8v1.5M123.2,157.7v1.5M125.5,157.6v1.5M127.8,157.4v1.5M130.1,157.2v1.5M132.4,157.0v1.5M134.7,156.8v1.5M137.0,156.5v1.5M139.3,156.3v1.5M141.6,156.0v1.5M143.9,155.8v1.5M146.2,155.6v1.5M148.5,155.4v1.5M150.8,155.3v1.5M153.1,155.2v1.5M155.4,155.1v1.5M157.7,154.9v1.5M160.0,154.8v1.5M162.3,154.7v1.5M164.6,154.6v1.5M166.9,154.5v1.5M169.2,154.4v1.5M171.5,154.3v1.5M173.8,154.2v1.5M176.1,154.1v1.5M178.4,154.0v1.5M180.7,153.9v1.5M183.0,153.8v1.5M185.3,153.7v1.5M187.6,153.7v1.5M189.9,153.6v1.5M192.2,153.5v1.5M194.5,153.4v1.5M196.8,153.3v1.5M199.1,153.3v1.5M201.4,153.2v1.5M203.7,153.1v1.5M206.0,153.0v1.5M208.3,152.9v1.5M210.6,152.9v1.5M212.9,152.8v1.5M215.2,152.7v1.5M217.5,152.7v1.5M219.8,152.6v1.5M222.1,152.5v1.5M224.4,152.4v1.5M226.7,152.4v1.5M229.0,152.3v1.5M231.3,152.2v1.5M233.6,152.1v1.5M235.9,152.1v1.5M238.2,152.0v1.5M240.5,151.9v1.5M242.8,151.8v1.5M245.1,151.8v1.5M247.4,151.7v1.5M249.7,151.6v1.5M252.0,151.6v1.5M254.3,151.5v1.5M256.6,151.4v1.5M258.9,151.4v1.5M261.2,151.3v1.5M263.5,151.3v1.5M265.8,151.2v1.5M268.1,151.1v1.5M270.4,151.1v1.5M272.7,151.0v1.5M275.0,150.9v1.5M45.0,153.4v1.5M47.3,153.4v1.5M49.6,153.4v1.5M51.9,153.4v1.5M54.2,153.4v1.5M56.5,153.4v1.5M58.8,153.4v1.5M61.1,153.4v1.5M63.4,153.4v1.5M65.7,153.4v1.5M68.0,153.4v1.5M70.3,153.4v1.5M72.6,153.4v1.5M74.9,153.4v1.5M77.2,153.4v1.5M79.5,153.4v1.5M81.8,153.4v1.5M84.1,153.4v1.5M86.4,153.3v1.5M88.7,152.9v1.5M91.0,152.4v1.5M93.3,152.2v1.5M95.6,152.2v1.5M97.9,152.2v1.5M100.2,152.1v1.5M102.5,152.1v1.5M104.8,152.1v1.5M107.1,152.0v1.5M109.4,151.9v1.5M111.7,151.8v1.5M114.0,151.7v1.5M116.3,151.6v1.5M118.6,151.6v1.5M120.9,151.6v1.5M123.2,151.6v1.5M125.5,151.6v1.5M127.8,151.6v1.5M130.1,151.6v1.5M132.4,151.6v1.5M134.7,151.6v1.5M137.0,151.7v1.5M139.3,151.7v1.5M141.6,151.7v1.5M143.9,151.7v1.5M146.2,151.7v1.5M148.5,151.7v1.5M150.8,151.7v1.5M153.1,151.7v1.5M155.4,151.7v1.5M157.7,151.7v1.5M160.0,151.7v1.5M162.3,151.7v1.5M164.6,151.7v1.5M166.9,151.7v1.5M169.2,151.6v1.5M171.5,151.6v1.5M173.8,151.6v1.5M176.1,151.6v1.5M178.4,151.5v1.5M180.7,151.5v1.5M183.0,151.5v1.5M185.3,151.4v1.5M187.6,151.4v1.5M189.9,151.4v1.5M192.2,151.3v1.5M194.5,151.3v1.5M196.8,151.2v1.5M199.1,151.2v1.5M201.4,151.2v1.5M203.7,151.2v1.5M206.0,151.1v1.5M208.3,151.1v1.5M210.6,151.1v1.5M212.9,151.0v1.5M215.2,151.0v1.5M217.5,151.0v1.5M219.8,151.0v1.5M222.1,151.0v1.5M224.4,151.0v1.5M226.7,151.0v1.5M229.0,151.0v1.5M231.3,150.9v1.5M233.6,150.9v1.5M235.9,150.9v1.5M238.2,150.9v1.5M240.5,150.9v1.5M242.8,150.9v1.5M245.1,150.9v1.5M247.4,150.9v1.5M249.7,150.9v1.5M252.0,150.9v1.5M254.3,150.9v1.5M256.6,150.9v1.5M258.9,150.9v1.5M261.2,150.9v1.5M263.5,150.9v1.5M265.8,150.9v1.5M268.1,150.9v1.5M270.4,150.9v1.5M272.7,150.9v1.5M275.0,150.9v1.5M45.0,150.3v1.5M47.3,150.3v1.5M49.6,150.3v1.5M51.9,150.3v1.5M54.2,150.3v1.5M56.5,150.3v1.5M58.8,150.3v1.5M61.1,150.3v1.5M63.4,150.3v1.5M65.7,150.3v1.5M68.0,150.3v1.5M70.3,150.3v1.5M72.6,150.3v1.5M74.9,150.3v1.5M77.2,150.3v1.5M79.5,150.3v1.5M81.8,150.3v1.5M84.1,150.3v1.5M86.4,150.4v1.5M88.7,150.7v1.5M91.0,151.1v1.5M93.3,151.2v1.5M95.6,151.2v1.5M97.9,151.2v1.5M100.2,151.3v1.5M102.5,151.3v1.5M104.8,151.3v1.5M107.1,151.3v1.5M109.4,151.3v1.5M111.7,151.3v1.5M114.0,151.3v1.5M116.3,151.3v1.5M118.6,151.3v1.5M120.9,151.3v1.5M123.2,151.3v1.5M125.5,151.4v1.5M127.8,151.4v1.5M130.1,151.4v1.5M132.4,151.4v1.5M134.7,151.4v1.5M137.0,151.4v1.5M139.3,151.4v1.5M141.6,151.4v1.5M143.9,151.4v1.5M146.2,151.4v1.5M148.5,151.4v1.5M150.8,151.4v1.5M153.1,151.4v1.5M155.4,151.4v1.5M157.7,151.4v1.5M160.0,151.4v1.5M162.3,151.4v1.5M164.6,151.4v1.5M166.9,151.4v1.5M169.2,151.4v1.5M171.5,151.4v1.5M173.8,151.3v1.5M176.1,151.3v1.5M178.4,151.3v1.5M180.7,151.3v1.5M183.0,151.3v1.5M185.3,151.2v1.5M187.6,151.2v1.5M189.9,151.2v1.5M192.2,151.2v1.5M194.5,151.2v1.5M196.8,151.1v1.5M199.1,151.1v1.5M201.4,151.1v1.5M203.7,151.1v1.5M206.0,151.1v1.5M208.3,151.0v1.5M210.6,151.0v1.5M212.9,151.0v1.5M215.2,151.0v1.5M217.5,151.0v1.5M219.8,151.0v1.5M222.1,151.0v1.5M224.4,151.0v1.5M226.7,151.0v1.5M229.0,151.0v1.5M231.3,150.9v1.5M233.6,150.9v1.5M235.9,150.9v1.5M238.2,150.9v1.5M240.5,150.9v1.5M242.8,150.9v1.5M245.1,150.9v1.5M247.4,150.9v1.5M249.7,150.9v1.5M252.0,150.9v1.5M254.3,150.9v1.5M256.6,150.9v1.5M258.9,150.9v1.5M261.2,150.9v1.5M263.5,150.9v1.5M265.8,150.9v1.5M268.1,150.9v1.5M270.4,150.9v1.5M272.7,150.9v1.5M275.0,150.9v1.5M45.0,147.3v1.5M47.3,147.3v1.5M49.6,147.3v1.5M51.9,147.3v1.5M54.2,147.3v1.5M56.5,147.3v1.5M58.8,147.3v1.5M61.1,147.3v1.5M63.4,147.3v1.5M65.7,147.3v1.5M68.0,147.3v1.5M70.3,147.3v1.5M72.6,147.3v1.5M74.9,147.3v1.5M77.2,147.3v1.5M79.5,147.3v1.5M81.8,147.3v1.5M84.1,147.3v1.5M86.4,147.4v1.5M88.7,147.7v1.5M91.0,148.0v1.5M93.3,148.2v1.5M95.6,148.2v1.5M97.9,148.2v1.5M100.2,148.1v1.5M102.5,148.1v1.5M104.8,148.1v1.5M107.1,148.1v1.5M109.4,148.1v1.5M111.7,148.1v1.5M114.0,148.0v1.5M116.3,148.0v1.5M118.6,148.0v1.5M120.9,147.9v1.5M123.2,147.9v1.5M125.5,147.8v1.5M127.8,147.8v1.5M130.1,147.8v1.5M132.4,147.7v1.5M134.7,147.7v1.5M137.0,147.7v1.5M139.3,147.6v1.5M141.6,147.6v1.5M143.9,147.6v1.5M146.2,147.6v1.5M148.5,147.6v1.5M150.8,147.6v1.5M153.1,147.6v1.5M155.4,147.6v1.5M157.7,147.6v1.5M160.0,147.6v1.5M162.3,147.6v1.5M164.6,147.6v1.5M166.9,147.6v1.5M169.2,147.6v1.5M171.5,147.6v1.5M173.8,147.6v1.5M176.1,147.6v1.5M178.4,147.6v1.5M180.7,147.6v1.5M183.0,147.6v1.5M185.3,147.6v1.5M187.6,147.6v1.5M189.9,147.6v1.5M192.2,147.6v1.5M194.5,147.6v1.5M196.8,147.6v1.5M199.1,147.6v1.5M201.4,147.6v1.5M203.7,147.6v1.5M206.0,147.6v1.5M208.3,147.6v1.5M210.6,147.6v1.5M212.9,147.6v1.5M215.2,147.6v1.5M217.5,147.6v1.5M219.8,147.6v1.5M222.1,147.6v1.5M224.4,147.6v1.5M226.7,147.6v1.5M229.0,147.6v1.5M231.3,147.6v1.5M233.6,147.6v1.5M235.9,147.6v1.5M238.2,147.6v1.5M240.5,147.6v1.5M242.8,147.6v1.5M245.1,147.6v1.5M247.4,147.7v1.5M249.7,147.7v1.5M252.0,147.7v1.5M254.3,147.7v1.5M256.6,147.8v1.5M258.9,147.8v1.5M261.2,147.8v1.5M263.5,147.9v1.5M265.8,147.9v1.5M268.1,147.9v1.5M270.4,148.0v1.5M272.7,148.0v1.5M275.0,148.1v1.5M45.0,139.4v1.5M47.3,139.4v1.5M49.6,139.4v1.5M51.9,139.4v1.5M54.2,139.4v1.5M56.5,139.4v1.5M58.8,139.4v1.5M61.1,139.4v1.5M63.4,139.4v1.5M65.7,139.4v1.5M68.0,139.4v1.5M70.3,139.4v1.5M72.6,139.4v1.5M74.9,139.4v1.5M77.2,139.4v1.5M79.5,139.4v1.5M81.8,139.4v1.5M84.1,139.4v1.5M86.4,139.4v1.5M88.7,139.4v1.5M91.0,139.4v1.5M93.3,139.4v1.5M95.6,139.4v1.5M97.9,139.4v1.5M100.2,139.4v1.5M102.5,139.4v1.5M104.8,139.3v1.5M107.1,139.3v1.5M109.4,139.2v1.5M111.7,139.2v1.5M114.0,139.1v1.5M116.3,139.1v1.5M118.6,139.0v1.5M120.9,139.0v1.5M123.2,138.9v1.5M125.5,138.8v1.5M127.8,138.8v1.5M130.1,138.7v1.5M132.4,138.7v1.5M134.7,138.6v1.5M137.0,138.6v1.5M139.3,138.5v1.5M141.6,138.5v1.5M143.9,138.5v1.5M146.2,138.5v1.5M148.5,138.5v1.5M150.8,138.5v1.5M153.1,138.5v1.5M155.4,138.5v1.5M157.7,138.5v1.5M160.0,138.5v1.5M162.3,138.5v1.5M164.6,138.5v1.5M166.9,138.5v1.5M169.2,138.5v1.5M171.5,138.5v1.5M173.8,138.5v1.5M176.1,138.5v1.5M178.4,138.5v1.5M180.7,138.5v1.5M183.0,138.5v1.5M185.3,138.5v1.5M187.6,138.5v1.5M189.9,138.5v1.5M192.2,138.5v1.5M194.5,138.5v1.5M196.8,138.5v1.5M199.1,138.5v1.5M201.4,138.5v1.5M203.7,138.5v1.5M206.0,138.5v1.5M208.3,138.5v1.5M210.6,138.5v1.5M212.9,138.5v1.5M215.2,138.5v1.5M217.5,138.5v1.5M219.8,138.5v1.5M222.1,138.5v1.5M224.4,138.5v1.5M226.7,138.5v1.5M229.0,138.5v1.5M231.3,138.5v1.5M233.6,138.5v1.5M235.9,138.5v1.5M238.2,138.5v1.5M240.5,138.5v1.5M242.8,138.5v1.5M245.1,138.5v1.5M247.4,138.5v1.5M249.7,138.6v1.5M252.0,138.6v1.5M254.3,138.6v1.5M256.6,138.6v1.5M258.9,138.6v1.5M261.2,138.6v1.5M263.5,138.6v1.5M265.8,138.6v1.5M268.1,138.6v1.5M270.4,138.6v1.5M272.7,138.6v1.5M275.0,138.7v1.5M45.0,134.2v1.5M47.3,134.2v1.5M49.6,134.2v1.5M51.9,134.2v1.5M54.2,134.2v1.5M56.5,134.2v1.5M58.8,134.2v1.5M61.1,134.2v1.5M63.4,134.2v1.5M65.7,134.2v1.5M68.0,134.2v1.5M70.3,134.2v1.5M72.6,134.2v1.5M74.9,134.2v1.5M77.2,134.2v1.5M79.5,134.2v1.5M81.8,134.2v1.5M84.1,134.2v1.5M86.4,134.4v1.5M88.7,134.9v1.5M91.0,135.5v1.5M93.3,135.8v1.5M95.6,135.9v1.5M97.9,135.9v1.5M100.2,135.9v1.5M102.5,135.9v1.5M104.8,135.9v1.5M107.1,135.9v1.5M109.4,135.8v1.5M111.7,135.8v1.5M114.0,135.7v1.5M116.3,135.7v1.5M118.6,135.6v1.5M120.9,135.5v1.5M123.2,135.4v1.5M125.5,135.4v1.5M127.8,135.3v1.5M130.1,135.2v1.5M132.4,135.2v1.5M134.7,135.1v1.5M137.0,135.0v1.5M139.3,135.0v1.5M141.6,134.9v1.5M143.9,134.8v1.5M146.2,134.8v1.5M148.5,134.8v1.5M150.8,134.7v1.5M153.1,134.7v1.5M155.4,134.7v1.5M157.7,134.7v1.5M160.0,134.7v1.5M162.3,134.7v1.5M164.6,134.7v1.5M166.9,134.7v1.5M169.2,134.7v1.5M171.5,134.7v1.5M173.8,134.7v1.5M176.1,134.7v1.5M178.4,134.7v1.5M180.7,134.7v1.5M183.0,134.7v1.5M185.3,134.7v1.5M187.6,134.7v1.5M189.9,134.7v1.5M192.2,134.7v1.5M194.5,134.7v1.5M196.8,134.7v1.5M199.1,134.7v1.5M201.4,134.7v1.5M203.7,134.7v1.5M206.0,134.7v1.5M208.3,134.7v1.5M210.6,134.7v1.5M212.9,134.7v1.5M215.2,134.7v1.5M217.5,134.7v1.5M219.8,134.7v1.5M222.1,134.7v1.5M224.4,134.7v1.5M226.7,134.7v1.5M229.0,134.7v1.5M231.3,134.7v1.5M233.6,134.7v1.5M235.9,134.7v1.5M238.2,134.7v1.5M240.5,134.7v1.5M242.8,134.7v1.5M245.1,134.7v1.5M247.4,134.7v1.5M249.7,134.7v1.5M252.0,134.7v1.5M254.3,134.7v1.5M256.6,134.7v1.5M258.9,134.7v1.5M261.2,134.7v1.5M263.5,134.7v1.5M265.8,134.7v1.5M268.1,134.7v1.5M270.4,134.7v1.5M272.7,134.7v1.5M275.0,134.7v1.5M45.0,127.0v1.5M47.3,124.2v1.5M49.6,122.4v1.5M51.9,121.2v1.5M54.2,120.8v1.5M56.5,120.8v1.5M58.8,121.0v1.5M61.1,121.2v1.5M63.4,121.8v1.5M65.7,122.6v1.5M68.0,123.7v1.5M70.3,124.9v1.5M72.6,126.0v1.5M74.9,126.9v1.5M77.2,127.8v1.5M79.5,128.7v1.5M81.8,128.4v1.5M84.1,127.1v1.5M86.4,124.6v1.5M88.7,121.1v1.5M91.0,108.8v1.5M93.3,98.6v1.5M95.6,93.1v1.5M97.9,90.8v1.5M100.2,89.6v1.5M102.5,88.7v1.5M104.8,88.3v1.5M107.1,88.1v1.5M109.4,87.9v1.5M111.7,87.8v1.5M114.0,87.6v1.5M116.3,87.5v1.5M118.6,87.4v1.5M120.9,87.4v1.5M123.2,87.3v1.5M125.5,87.3v1.5M127.8,87.3v1.5M130.1,87.3v1.5M132.4,87.3v1.5M134.7,87.3v1.5M137.0,87.3v1.5M139.3,87.3v1.5M141.6,87.3v1.5M143.9,87.3v1.5M146.2,87.3v1.5M148.5,87.3v1.5M150.8,87.3v1.5M153.1,87.3v1.5M155.4,87.3v1.5M157.7,87.3v1.5M160.0,87.3v1.5M162.3,87.3v1.5M164.6,87.3v1.5M166.9,87.3v1.5M169.2,87.3v1.5M171.5,87.3v1.5M173.8,87.3v1.5M176.1,87.3v1.5M178.4,87.3v1.5M180.7,87.3v1.5M183.0,87.3v1.5M185.3,87.3v1.5M187.6,87.3v1.5M189.9,87.3v1.5M192.2,87.3v1.5M194.5,87.3v1.5M196.8,87.3v1.5M199.1,87.3v1.5M201.4,87.3v1.5M203.7,87.3v1.5M206.0,87.3v1.5M208.3,87.3v1.5M210.6,87.3v1.5M212.9,87.3v1.5M215.2,87.3v1.5M217.5,87.3v1.5M219.8,87.3v1.5M222.1,87.3v1.5M224.4,87.3v1.5M226.7,87.3v1.5M229.0,87.3v1.5M231.3,87.3v1.5M233.6,87.3v1.5M235.9,87.3v1.5M238.2,87.3v1.5M240.5,87.3v1.5M242.8,87.3v1.5M245.1,87.3v1.5M247.4,87.3v1.5M249.7,87.3v1.5M252.0,87.3v1.5M254.3,87.3v1.5M256.6,87.3v1.5M258.9,87.3v1.5M261.2,87.3v1.5M263.5,87.3v1.5M265.8,87.3v1.5M268.1,87.3v1.5M270.4,87.3v1.5M272.7,87.3v1.5M275.0,87.3v1.5M45.0,112.9v1.5M47.3,113.3v1.5M49.6,113.8v1.5M51.9,114.3v1.5M54.2,114.8v1.5M56.5,115.4v1.5M58.8,115.9v1.5M61.1,116.5v1.5M63.4,117.1v1.5M65.7,117.5v1.5M68.0,117.9v1.5M70.3,118.4v1.5M72.6,119.4v1.5M74.9,122.0v1.5M77.2,125.0v1.5M79.5,127.6v1.5M81.8,128.9v1.5M84.1,129.8v1.5M86.4,131.0v1.5M88.7,132.1v1.5M91.0,133.0v1.5M93.3,133.8v1.5M95.6,134.2v1.5M97.9,134.6v1.5M100.2,134.7v1.5M102.5,134.7v1.5M104.8,134.7v1.5M107.1,134.7v1.5M109.4,134.7v1.5M111.7,134.7v1.5M114.0,134.7v1.5M116.3,134.7v1.5M118.6,134.7v1.5M120.9,134.7v1.5M123.2,134.7v1.5M125.5,134.6v1.5M127.8,134.6v1.5M130.1,134.6v1.5M132.4,134.6v1.5M134.7,134.6v1.5M137.0,134.6v1.5M139.3,134.6v1.5M141.6,134.6v1.5M143.9,134.6v1.5M146.2,134.6v1.5M148.5,134.6v1.5M150.8,134.6v1.5M153.1,134.6v1.5M155.4,134.6v1.5M157.7,134.6v1.5M160.0,134.6v1.5M162.3,134.6v1.5M164.6,134.6v1.5M166.9,134.6v1.5M169.2,134.6v1.5M171.5,134.6v1.5M173.8,134.6v1.5M176.1,134.6v1.5M178.4,134.6v1.5M180.7,134.6v1.5M183.0,134.6v1.5M185.3,134.6v1.5M187.6,134.6v1.5M189.9,134.6v1.5M192.2,134.6v1.5M194.5,134.6v1.5M196.8,134.6v1.5M199.1,134.6v1.5M201.4,134.6v1.5M203.7,134.6v1.5M206.0,134.6v1.5M208.3,134.6v1.5M210.6,134.6v1.5M212.9,134.6v1.5M215.2,134.6v1.5M217.5,134.6v1.5M219.8,134.6v1.5M222.1,134.6v1.5M224.4,134.6v1.5M226.7,134.6v1.5M229.0,134.6v1.5M231.3,134.6v1.5M233.6,134.6v1.5M235.9,134.6v1.5M238.2,134.6v1.5M240.5,134.6v1.5M242.8,134.6v1.5M245.1,134.6v1.5M247.4,134.6v1.5M249.7,134.6v1.5M252.0,134.6v1.5M254.3,134.6v1.5M256.6,134.6v1.5M258.9,134.6v1.5M261.2,134.6v1.5M263.5,134.6v1.5M265.8,134.6v1.5M268.1,134.6v1.5M270.4,134.6v1.5M272.7,134.6v1.5M275.0,134.7v1.5M85.6,100.4v1.5M86.4,101.4v1.5M87.2,102.4v1.5M88.0,103.6v1.5M88.7,104.9v1.5M89.5,106.8v1.5M90.2,109.7v1.5M90.6,113.1v1.5M91.0,117.2v1.5M91.4,119.7v1.5M91.8,121.6v1.5M92.5,124.6v1.5M93.3,127.4v1.5M94.0,129.5v1.5M95.0,131.9v1.5M85.6,125.6v1.5M86.4,124.6v1.5M87.2,123.6v1.5M88.0,122.4v1.5M88.7,121.1v1.5M89.5,119.2v1.5M90.2,116.3v1.5M90.6,112.9v1.5M91.0,108.8v1.5M91.4,106.3v1.5M91.8,104.4v1.5M92.5,101.4v1.5M93.3,98.6v1.5M94.0,96.5v1.5M95.0,94.1v1.5" stroke="#000" stroke-width="1.3" fill="none"/>
<path d="M86.9,46.1h2.2M91.2,47.9h2.2M86.9,47.3h2.2M91.2,47.4h2.2M86.9,50.0h2.2M91.2,50.1h2.2M86.9,52.8h2.2M91.2,53.3h2.2M86.9,55.4h2.2M91.2,56.0h2.2M86.9,58.4h2.2M91.2,59.1h2.2M86.9,61.7h2.2M91.2,62.6h2.2M86.9,72.8h2.2M91.2,71.9h2.2M86.9,65.9h2.2M91.2,65.3h2.2M86.9,71.4h2.2M91.2,68.8h2.2M86.9,73.7h2.2M91.2,74.6h2.2M86.9,76.1h2.2M91.2,75.5h2.2M86.9,79.1h2.2M91.2,78.6h2.2M86.9,87.3h2.2M91.2,87.3h2.2M86.9,92.1h2.2M91.2,91.1h2.2M86.9,104.3h2.2M91.2,124.5h2.2M86.9,95.0h2.2M91.2,93.3h2.2M86.9,181.4h2.2M91.2,179.6h2.2M86.9,180.2h2.2M91.2,180.1h2.2M86.9,177.5h2.2M91.2,177.4h2.2M86.9,174.7h2.2M91.2,174.2h2.2M86.9,172.1h2.2M91.2,171.5h2.2M86.9,169.1h2.2M91.2,168.4h2.2M86.9,165.8h2.2M91.2,164.9h2.2M86.9,154.7h2.2M91.2,155.6h2.2M86.9,161.6h2.2M91.2,162.2h2.2M86.9,156.1h2.2M91.2,158.7h2.2M86.9,153.8h2.2M91.2,152.9h2.2M86.9,151.4h2.2M91.2,152.0h2.2M86.9,148.4h2.2M91.2,148.9h2.2M86.9,140.2h2.2M91.2,140.2h2.2M86.9,135.4h2.2M91.2,136.4h2.2M86.9,123.2h2.2M91.2,103.0h2.2M86.9,132.5h2.2M91.2,134.2h2.2" stroke="#000" stroke-width="1.6" fill="none"/>
<path d="M44.3,108.3h1.4M46.6,108.3h1.4M48.9,108.3h1.4M51.2,108.3h1.4M53.5,108.3h1.4M55.8,108.3h1.4M58.1,108.3h1.4M60.4,108.3h1.4M62.7,108.3h1.4M65.0,108.3h1.4M67.3,108.3h1.4M69.6,108.3h1.4M71.9,108.3h1.4M74.2,108.3h1.4M76.5,108.3h1.4M78.8,108.3h1.4M81.1,108.3h1.4M83.4,108.3h1.4M85.7,108.3h1.4M88.0,108.3h1.4M90.3,108.3h1.4M92.6,108.3h1.4M94.9,108.3h1.4M97.2,108.3h1.4M99.5,108.3h1.4M101.8,108.3h1.4M104.1,108.3h1.4M106.4,108.3h1.4M108.7,108.3h1.4M111.0,108.3h1.4M113.3,108.3h1.4M115.6,108.3h1.4M117.9,108.3h1.4M120.2,108.3h1.4M122.5,108.3h1.4M124.8,108.3h1.4M127.1,108.3h1.4M129.4,108.3h1.4M131.7,108.3h1.4M134.0,108.3h1.4M136.3,108.3h1.4M138.6,108.3h1.4M140.9,108.3h1.4M143.2,108.3h1.4M145.5,108.3h1.4M147.8,108.3h1.4M150.1,108.3h1.4M152.4,108.3h1.4M154.7,108.3h1.4M157.0,108.3h1.4M159.3,108.3h1.4M161.6,108.3h1.4M163.9,108.3h1.4M166.2,108.3h1.4M168.5,108.3h1.4M170.8,108.3h1.4M173.1,108.3h1.4M175.4,108.3h1.4M177.7,108.3h1.4M180.0,108.3h1.4M182.3,108.3h1.4M184.6,108.3h1.4M186.9,108.3h1.4M189.2,108.3h1.4M191.5,108.3h1.4M193.8,108.3h1.4M196.1,108.3h1.4M198.4,108.3h1.4M200.7,108.3h1.4M203.0,108.3h1.4M205.3,108.3h1.4M207.6,108.3h1.4M209.9,108.3h1.4M212.2,108.3h1.4M214.5,108.3h1.4M216.8,108.3h1.4M219.1,108.3h1.4M221.4,108.3h1.4M223.7,108.3h1.4M226.0,108.3h1.4M228.3,108.3h1.4M230.6,108.3h1.4M232.9,108.3h1.4M235.2,108.3h1.4M237.5,108.3h1.4M239.8,108.3h1.4M242.1,108.3h1.4M244.4,108.3h1.4M246.7,108.3h1.4M249.0,108.3h1.4M251.3,108.3h1.4M253.6,108.3h1.4M255.9,108.3h1.4M258.2,108.3h1.4M260.5,108.3h1.4M262.8,108.3h1.4M265.1,108.3h1.4M267.4,108.3h1.4M269.7,108.3h1.4M272.0,108.3h1.4M274.3,108.3h1.4" stroke="#ee1c1c" stroke-width="1.3" fill="none"/></g>
<rect x="45.0" y="16.5" width="229.7" height="194.6" fill="none" stroke="#000" stroke-width="1.1"/>
<path d="M45.0,211.1h3.2M274.7,211.1h-3.2M45.0,191.6h2.4M274.7,191.6h-2.4M45.0,172.2h3.2M274.7,172.2h-3.2M45.0,152.7h2.4M274.7,152.7h-2.4M45.0,133.3h3.2M274.7,133.3h-3.2M45.0,113.8h2.4M274.7,113.8h-2.4M45.0,94.3h3.2M274.7,94.3h-3.2M45.0,74.9h2.4M274.7,74.9h-2.4M45.0,55.4h3.2M274.7,55.4h-3.2M45.0,36.0h2.4M274.7,36.0h-2.4M45.0,16.5h3.2M274.7,16.5h-3.2M45.0,211.1v-3.8M45.0,16.5v3.8M68.0,211.1v-2.0M68.0,16.5v2.0M90.9,211.1v-3.8M90.9,16.5v3.8M113.9,211.1v-2.0M113.9,16.5v2.0M136.9,211.1v-3.8M136.9,16.5v3.8M159.8,211.1v-2.0M159.8,16.5v2.0M182.8,211.1v-3.8M182.8,16.5v3.8M205.8,211.1v-2.0M205.8,16.5v2.0M228.8,211.1v-3.8M228.8,16.5v3.8M251.7,211.1v-2.0M251.7,16.5v2.0M274.7,211.1v-3.8M274.7,16.5v3.8" stroke="#000" stroke-width="0.9" fill="none"/>
<text x="41.5" y="215.2" font-size="12.3" text-anchor="end">0.0</text>
<text x="41.5" y="176.3" font-size="12.3" text-anchor="end">0.2</text>
<text x="41.5" y="137.4" font-size="12.3" text-anchor="end">0.4</text>
<text x="41.5" y="98.4" font-size="12.3" text-anchor="end">0.6</text>
<text x="41.5" y="59.5" font-size="12.3" text-anchor="end">0.8</text>
<text x="41.5" y="20.6" font-size="12.3" text-anchor="end">1.0</text>
<text x="47.5" y="227.4" font-size="12" text-anchor="middle" textLength="14.2" lengthAdjust="spacingAndGlyphs">0.0</text>
<text x="92.4" y="225.0" font-size="12" text-anchor="middle" textLength="14.2" lengthAdjust="spacingAndGlyphs">0.1</text>
<text x="138.1" y="224.7" font-size="12" text-anchor="middle" textLength="14.2" lengthAdjust="spacingAndGlyphs">0.2</text>
<text x="185.0" y="224.7" font-size="12" text-anchor="middle" textLength="14.2" lengthAdjust="spacingAndGlyphs">0.3</text>
<text x="229.1" y="224.6" font-size="12" text-anchor="middle" textLength="14.2" lengthAdjust="spacingAndGlyphs">0.4</text>
<text x="274.3" y="224.6" font-size="12" text-anchor="middle" textLength="14.2" lengthAdjust="spacingAndGlyphs">0.5</text>
<text x="166.3" y="245" font-size="14" text-anchor="middle" textLength="40" lengthAdjust="spacingAndGlyphs">k (π/a)</text>
<text transform="translate(17.3,115.2) rotate(-90)" font-size="12.4" text-anchor="middle" textLength="120" lengthAdjust="spacingAndGlyphs">Wannier charge centres</text>
<text x="4" y="9.7" font-size="14">a</text>
<text x="289" y="9.1" font-size="14">b</text>
<defs>
<filter id="b05" x="-50%" y="-50%" width="200%" height="200%"><feGaussianBlur stdDeviation="0.5"/></filter>
<filter id="b1" x="-50%" y="-50%" width="200%" height="200%"><feGaussianBlur stdDeviation="1.0"/></filter>
<filter id="b2" x="-50%" y="-50%" width="200%" height="200%"><feGaussianBlur stdDeviation="2.0"/></filter>
<filter id="b3" x="-50%" y="-50%" width="200%" height="200%"><feGaussianBlur stdDeviation="3.0"/></filter>
<filter id="b4" x="-50%" y="-50%" width="200%" height="200%"><feGaussianBlur stdDeviation="4.0"/></filter>
<filter id="b8" x="-50%" y="-50%" width="200%" height="200%"><feGaussianBlur stdDeviation="8.0"/></filter>
<clipPath id="cpb"><rect x="333.5" y="14.5" width="236.5" height="197.0"/></clipPath>
<clipPath id="cpV1"><path d="M408.6,34 L392.3,120.5 L390,135 L470,135 L470,10 L413.3,10Z"/></clipPath>
<clipPath id="cpPR3"><path d="M380,100 L417.5,108 L410,152 L380,165Z"/></clipPath>
<linearGradient id="gUM" gradientUnits="userSpaceOnUse" x1="0" y1="34" x2="0" y2="114"><stop offset="0" stop-color="#fc9868" stop-opacity="1"/><stop offset="0.3" stop-color="#f98a60" stop-opacity="0.9"/><stop offset="0.6" stop-color="#f5735b" stop-opacity="0.7"/><stop offset="1" stop-color="#f1635b" stop-opacity="0"/></linearGradient>
</defs>
<g clip-path="url(#cpb)">
<rect x="331.5" y="12.5" width="240.5" height="201.0" fill="#f1625b"/>
<g id="hh0">
<path d="M333.0,14.0C335.2,-19.0 344.2,3.0 346.0,14.0C347.8,25.0 343.5,57.3 344.0,80.0C344.5,102.7 349.0,128.0 349.0,150.0C349.0,172.0 346.7,201.7 344.0,212.0C341.3,222.3 334.8,245.0 333.0,212.0C331.2,179.0 330.8,47.0 333.0,14.0Z" fill="#ea545f" fill-opacity="0.45" filter="url(#b8)"/>
<ellipse cx="367" cy="95" rx="19" ry="50" fill="#fa7f5e" fill-opacity="0.7" filter="url(#b8)"/>
<path d="M338.0,150.0C338.0,156.7 346.0,163.0 350.0,168.0C354.0,173.0 358.3,180.0 362.0,180.0C365.7,180.0 368.3,174.7 372.0,168.0C375.7,161.3 381.3,147.3 384.0,140.0C386.7,132.7 390.3,127.3 388.0,124.0C385.7,120.7 376.3,119.3 370.0,120.0C363.7,120.7 355.3,123.0 350.0,128.0C344.7,133.0 338.0,143.3 338.0,150.0Z" fill="#f7775c" fill-opacity="0.5" filter="url(#b4)"/>
<path d="M388.0,135.0C384.3,138.7 381.0,154.5 378.0,162.0C375.0,169.5 367.2,176.0 370.0,180.0C372.8,184.0 386.0,185.8 395.0,186.0C404.0,186.2 421.2,185.3 424.0,181.0C426.8,176.7 416.0,166.8 412.0,160.0C408.0,153.2 404.0,144.2 400.0,140.0C396.0,135.8 391.7,131.3 388.0,135.0Z" fill="#f7775c" fill-opacity="0.45" filter="url(#b4)"/>
<path d="M333.0,194.0 L460.0,194.0 L460.0,214.0 L333.0,214.0Z" fill="#e9525f" fill-opacity="0.4" filter="url(#b4)"/>
<path d="M411.5,14.0 L462.0,14.0 L462.0,60.0 L437.0,47.0 L419.0,66.0 L402.0,84.0 L398.5,86.0 L403.4,60.0 L408.3,34.0 L409.3,28.0 L410.5,20.0Z" fill="#fda06d" fill-opacity="0.92" filter="url(#b1)"/>
<path d="M436.0,14.0 L445.0,14.0 L447.0,32.0 L442.0,45.0 L436.5,50.0 L433.0,44.0Z" fill="#f67c5d" fill-opacity="0.6" filter="url(#b2)"/>
<path d="M411.0,14.0 L416.0,14.0 L412.0,34.0 L408.5,34.0Z" fill="#f98f63" fill-opacity="0.4" filter="url(#b1)"/>
<path d="M462,30 L457.5,33 L449,43 L441.5,56.5 L435,69 L429,82 L423.6,94 L417.6,107.5 L414,114 L462,114Z" fill="url(#gUM)" filter="url(#b2)"/>
<path d="M462.0,97.0 L456.0,99.0 L447.0,117.0 L438.0,137.0 L431.0,152.0 L440.0,157.0 L450.0,150.0 L462.0,141.0Z" fill="#f9855f" fill-opacity="0.6" filter="url(#b3)"/>
<path d="M381.0,14.0C385.3,12.0 406.5,12.2 411.0,14.0C415.5,15.8 409.3,22.3 408.0,25.0C406.7,27.7 404.8,28.8 403.0,30.0C401.2,31.2 399.0,31.9 397.0,32.0C395.0,32.1 393.0,31.5 391.0,30.5C389.0,29.5 386.7,28.8 385.0,26.0C383.3,23.2 376.7,16.0 381.0,14.0Z" fill="#fb9467" fill-opacity="0.85" filter="url(#b2)"/>
<path d="M408.3,34.0 L398.9,84.0 L392.0,120.5 L389.0,132.0 L381.0,132.0 L380.0,118.0 L385.0,84.0 L394.0,50.0 L400.0,38.0Z" fill="#e04c62" fill-opacity="0.65" filter="url(#b3)"/>
<path d="M347.0,14.0C348.7,12.0 360.8,12.7 364.0,14.0C367.2,15.3 364.7,19.3 366.0,22.0C367.3,24.7 369.7,27.8 372.0,30.0C374.3,32.2 380.0,33.8 380.0,35.0C380.0,36.2 375.0,37.3 372.0,37.0C369.0,36.7 365.0,34.8 362.0,33.0C359.0,31.2 356.5,29.2 354.0,26.0C351.5,22.8 345.3,16.0 347.0,14.0Z" fill="#fb9568" fill-opacity="0.8" filter="url(#b2)"/>
<path d="M362.0,40.0C363.8,39.6 370.3,43.0 375.0,43.5C379.7,44.0 385.2,43.9 390.0,43.0C394.8,42.1 401.2,38.3 404.0,38.0C406.8,37.7 407.2,38.7 407.0,41.0C406.8,43.3 405.5,50.2 403.0,52.0C400.5,53.8 396.7,52.3 392.0,52.0C387.3,51.7 379.7,51.0 375.0,50.0C370.3,49.0 366.2,47.7 364.0,46.0C361.8,44.3 360.2,40.4 362.0,40.0Z" fill="#df4b63" fill-opacity="0.5" filter="url(#b2)"/>
<path d="M396.0,42.0C397.8,38.5 405.4,35.7 407.0,37.0C408.6,38.3 406.4,45.7 405.5,50.0C404.6,54.3 403.1,61.7 401.5,63.0C399.9,64.3 396.9,61.5 396.0,58.0C395.1,54.5 394.2,45.5 396.0,42.0Z" fill="#cf456b" fill-opacity="0.5" filter="url(#b2)"/>
</g>
<use href="#hh0" transform="translate(915.0,0) scale(-1,1)"/>
<g id="hh1">
<path d="M361.0,12.0C363.3,10.3 375.5,10.3 379.0,12.0C382.5,13.7 380.8,19.3 382.0,22.0C383.2,24.7 384.7,26.4 386.0,28.0C387.3,29.6 390.0,30.4 390.0,31.5C390.0,32.6 387.8,34.2 386.0,34.5C384.2,34.8 381.5,34.3 379.0,33.5C376.5,32.7 373.3,31.4 371.0,29.5C368.7,27.6 366.7,24.9 365.0,22.0C363.3,19.1 358.7,13.7 361.0,12.0Z" fill="#b53b7b" fill-opacity="0.85" filter="url(#b2)"/>
<path d="M386.0,29.0C387.0,28.4 389.2,31.7 391.0,32.5C392.8,33.3 396.7,33.3 397.0,34.0C397.3,34.7 395.0,36.2 393.0,36.5C391.0,36.8 386.2,37.2 385.0,36.0C383.8,34.8 385.0,29.6 386.0,29.0Z" fill="#d8496a" fill-opacity="0.6" filter="url(#b1)"/>
<path d="M365.0,12.0C366.2,10.2 375.4,10.5 378.0,12.0C380.6,13.5 379.7,18.7 380.5,21.0C381.3,23.3 383.4,24.9 383.0,26.0C382.6,27.1 380.0,28.0 378.0,27.5C376.0,27.0 373.2,25.6 371.0,23.0C368.8,20.4 363.8,13.8 365.0,12.0Z" fill="#8c2981" fill-opacity="0.8" filter="url(#b2)"/>
<path d="M404.0,33.0C404.2,31.7 407.8,30.2 409.0,28.0C410.2,25.8 410.7,21.3 411.5,20.0C412.3,18.7 413.9,18.3 414.0,20.0C414.1,21.7 413.0,27.3 412.0,30.0C411.0,32.7 409.3,35.5 408.0,36.0C406.7,36.5 403.8,34.3 404.0,33.0Z" fill="#e8565f" fill-opacity="0.3" filter="url(#b1)"/>
<g clip-path="url(#cpV1)">
<path d="M440.0,45.0 L439.5,55.4 L436.0,61.9 L432.9,68.0 L429.9,74.5 L426.9,81.0 L424.2,87.1 L421.5,93.1 L418.7,99.6 L415.5,106.5 L412.6,111.8 L409.2,116.6 L406.0,120.1 L402.4,122.5 L398.8,124.0 L395.9,124.6 L393.2,124.3 L386.0,124.0 L386.0,100.0 L392.0,82.0 L402.0,80.5 L419.0,63.5Z" fill="#cf476d" fill-opacity="0.92" filter="url(#b2)"/>
<path d="M435.0,56.0 L433.9,60.9 L430.9,67.0 L427.8,73.6 L424.8,80.1 L422.1,86.1 L419.4,92.1 L416.6,98.6 L413.5,105.4 L410.6,110.6 L407.4,115.1 L404.5,118.3 L401.3,120.5 L398.1,121.8 L395.7,122.3 L393.5,122.0 L386.0,121.0 L386.0,100.0 L392.0,84.0 L403.0,83.5 L418.0,68.0Z" fill="#b23a7b" fill-opacity="0.95" filter="url(#b2)"/>
<path d="M421.3,78.5 L418.5,84.5 L415.8,90.6 L413.0,97.0 L410.0,103.7 L407.3,108.5 L404.3,112.7 L401.9,115.4 L399.4,117.1 L396.9,118.1 L390.0,112.0 L392.0,95.0 L399.0,88.0 L410.0,84.0Z" fill="#9a3283" fill-opacity="0.6" filter="url(#b3)"/>
</g>
<g clip-path="url(#cpPR3)">
<path d="M391.0,129.0 L402.0,127.5 L410.0,121.5 L416.5,112.0 L415.0,128.0 L412.0,146.0 L407.5,141.0 L400.0,134.5Z" fill="#d3496b" fill-opacity="0.75" filter="url(#b2)"/>
<path d="M401.0,131.0 L410.0,125.0 L416.0,116.0 L414.5,129.0 L412.0,142.0 L407.0,138.0Z" fill="#ab377e" fill-opacity="0.8" filter="url(#b2)"/>
</g>
</g>
<use href="#hh1" transform="translate(915.0,0) scale(-1,1)"/>
<g id="hh2">
<path d="M345.5,14.0C346.1,15.2 347.7,18.8 349.0,21.0C350.3,23.2 351.8,25.6 353.5,27.5C355.2,29.4 357.2,31.2 359.0,32.6C360.8,34.0 362.2,35.0 364.0,36.0C365.8,37.0 367.7,38.1 370.0,38.7C372.3,39.3 375.3,39.8 378.0,39.8C380.7,39.8 383.3,39.5 386.0,39.0C388.7,38.5 391.7,37.7 394.0,37.0C396.3,36.3 398.2,35.6 400.0,34.8C401.8,34.0 403.3,33.0 404.5,32.0C405.7,30.9 406.6,29.8 407.3,28.5C408.1,27.2 408.7,24.8 409.0,24.0" fill="none" stroke="#fa8c62" stroke-width="12.6" stroke-opacity="0.45" stroke-linecap="round" stroke-linejoin="round" filter="url(#b3)"/>
<path d="M345.5,14.0C346.1,15.2 347.7,18.8 349.0,21.0C350.3,23.2 351.8,25.6 353.5,27.5C355.2,29.4 357.2,31.2 359.0,32.6C360.8,34.0 362.2,35.0 364.0,36.0C365.8,37.0 367.7,38.1 370.0,38.7C372.3,39.3 375.3,39.8 378.0,39.8C380.7,39.8 383.3,39.5 386.0,39.0C388.7,38.5 391.7,37.7 394.0,37.0C396.3,36.3 398.2,35.6 400.0,34.8C401.8,34.0 403.3,33.0 404.5,32.0C405.7,30.9 406.6,29.8 407.3,28.5C408.1,27.2 408.7,24.8 409.0,24.0" fill="none" stroke="#fda36f" stroke-width="5.6" stroke-opacity="0.45" stroke-linecap="round" stroke-linejoin="round" filter="url(#b2)"/>
<path d="M345.5,14.0C346.1,15.2 347.7,18.8 349.0,21.0C350.3,23.2 351.8,25.6 353.5,27.5C355.2,29.4 357.2,31.2 359.0,32.6C360.8,34.0 362.2,35.0 364.0,36.0C365.8,37.0 367.7,38.1 370.0,38.7C372.3,39.3 375.3,39.8 378.0,39.8C380.7,39.8 383.3,39.5 386.0,39.0C388.7,38.5 391.7,37.7 394.0,37.0C396.3,36.3 398.2,35.6 400.0,34.8C401.8,34.0 403.3,33.0 404.5,32.0C405.7,30.9 406.8,29.1 407.3,28.5" fill="none" stroke="#fdb27c" stroke-width="5.2" stroke-opacity="0.85" stroke-linecap="round" stroke-linejoin="round" filter="url(#b1)"/>
<path d="M407.3,28.5 L409.0,24.0" fill="none" stroke="#fdb27c" stroke-width="3.5" stroke-opacity="0.7" stroke-linecap="round" stroke-linejoin="round" filter="url(#b1)"/>
<path d="M359.0,32.6C359.8,33.2 362.2,35.0 364.0,36.0C365.8,37.0 367.7,38.1 370.0,38.7C372.3,39.3 375.3,39.8 378.0,39.8C380.7,39.8 383.3,39.5 386.0,39.0C388.7,38.5 391.7,37.7 394.0,37.0C396.3,36.3 398.2,35.6 400.0,34.8C401.8,34.0 403.8,32.5 404.5,32.0" fill="none" stroke="#fdeaa8" stroke-width="2.2" stroke-opacity="0.55" stroke-linecap="round" stroke-linejoin="round" filter="url(#b1)"/>
<path d="M378.8,14.0C379.2,15.0 380.3,18.3 381.0,20.0C381.7,21.7 382.2,22.7 383.0,24.0C383.8,25.3 384.8,26.8 386.0,28.0C387.2,29.2 388.8,30.2 390.0,31.0C391.2,31.8 392.3,32.2 393.5,32.5C394.7,32.8 395.8,33.1 397.0,33.0C398.2,32.9 399.3,32.5 400.5,32.0C401.7,31.5 402.9,30.9 404.0,30.0C405.1,29.1 406.2,27.8 407.0,26.5C407.8,25.2 408.3,23.5 409.0,22.0C409.7,20.5 410.5,18.8 411.0,17.5C411.5,16.2 411.8,14.6 412.0,14.0" fill="none" stroke="#fa8c62" stroke-width="8.1" stroke-opacity="0.3" stroke-linecap="round" stroke-linejoin="round" filter="url(#b3)"/>
<path d="M378.8,14.0C379.2,15.0 380.3,18.3 381.0,20.0C381.7,21.7 382.2,22.7 383.0,24.0C383.8,25.3 384.8,26.8 386.0,28.0C387.2,29.2 388.8,30.2 390.0,31.0C391.2,31.8 392.3,32.2 393.5,32.5C394.7,32.8 395.8,33.1 397.0,33.0C398.2,32.9 399.3,32.5 400.5,32.0C401.7,31.5 402.9,30.9 404.0,30.0C405.1,29.1 406.2,27.8 407.0,26.5C407.8,25.2 408.3,23.5 409.0,22.0C409.7,20.5 410.5,18.8 411.0,17.5C411.5,16.2 411.8,14.6 412.0,14.0" fill="none" stroke="#fda36f" stroke-width="3.6" stroke-opacity="0.3" stroke-linecap="round" stroke-linejoin="round" filter="url(#b2)"/>
<path d="M378.8,14.0C379.2,15.0 380.3,18.3 381.0,20.0C381.7,21.7 382.2,22.7 383.0,24.0C383.8,25.3 384.8,26.8 386.0,28.0C387.2,29.2 388.8,30.2 390.0,31.0C391.2,31.8 392.3,32.2 393.5,32.5C394.7,32.8 395.8,33.1 397.0,33.0C398.2,32.9 399.3,32.5 400.5,32.0C401.7,31.5 402.9,30.9 404.0,30.0C405.1,29.1 406.2,27.8 407.0,26.5C407.8,25.2 408.3,23.5 409.0,22.0C409.7,20.5 410.5,18.8 411.0,17.5C411.5,16.2 411.8,14.6 412.0,14.0" fill="none" stroke="#fec088" stroke-width="3.6" stroke-opacity="0.85" stroke-linecap="round" stroke-linejoin="round" filter="url(#b1)"/>
<path d="M378.8,14.0C379.2,15.0 380.3,18.3 381.0,20.0C381.7,21.7 382.2,22.7 383.0,24.0C383.8,25.3 384.8,26.8 386.0,28.0C387.2,29.2 388.8,30.2 390.0,31.0C391.2,31.8 392.3,32.2 393.5,32.5C394.7,32.8 395.8,33.1 397.0,33.0C398.2,32.9 399.3,32.5 400.5,32.0C401.7,31.5 402.9,30.9 404.0,30.0C405.1,29.1 406.2,27.8 407.0,26.5C407.8,25.2 408.3,23.5 409.0,22.0C409.7,20.5 410.5,18.8 411.0,17.5C411.5,16.2 411.8,14.6 412.0,14.0" fill="none" stroke="#fdeaa8" stroke-width="1.5" stroke-opacity="0.7" stroke-linecap="round" stroke-linejoin="round" filter="url(#b05)"/>
<path d="M457.5,33.2C457.1,33.5 455.9,34.0 455.0,34.8C454.1,35.6 453.1,36.3 452.0,37.8C450.9,39.2 449.7,41.5 448.5,43.5C447.3,45.5 446.2,47.3 445.0,49.5C443.8,51.7 442.7,54.2 441.5,56.5C440.3,58.8 439.1,60.9 438.0,63.0C436.9,65.1 435.5,68.0 435.0,69.0" fill="none" stroke="#fa8c62" stroke-width="12.6" stroke-opacity="0.5" stroke-linecap="round" stroke-linejoin="round" filter="url(#b3)"/>
<path d="M457.5,33.2C457.1,33.5 455.9,34.0 455.0,34.8C454.1,35.6 453.1,36.3 452.0,37.8C450.9,39.2 449.7,41.5 448.5,43.5C447.3,45.5 446.2,47.3 445.0,49.5C443.8,51.7 442.7,54.2 441.5,56.5C440.3,58.8 439.1,60.9 438.0,63.0C436.9,65.1 435.5,68.0 435.0,69.0" fill="none" stroke="#fda36f" stroke-width="5.6" stroke-opacity="0.5" stroke-linecap="round" stroke-linejoin="round" filter="url(#b2)"/>
<path d="M457.5,33.2C457.1,33.5 455.9,34.0 455.0,34.8C454.1,35.6 453.1,36.3 452.0,37.8C450.9,39.2 449.7,41.5 448.5,43.5C447.3,45.5 446.2,47.3 445.0,49.5C443.8,51.7 442.7,54.2 441.5,56.5C440.3,58.8 439.1,60.9 438.0,63.0C436.9,65.1 436.0,66.9 435.0,69.0C434.0,71.1 432.5,74.4 432.0,75.5" fill="none" stroke="#fa8c62" stroke-width="11.2" stroke-opacity="0.45" stroke-linecap="round" stroke-linejoin="round" filter="url(#b2)"/>
<path d="M457.5,33.2C457.1,33.5 455.9,34.0 455.0,34.8C454.1,35.6 453.1,36.3 452.0,37.8C450.9,39.2 449.7,41.5 448.5,43.5C447.3,45.5 446.2,47.3 445.0,49.5C443.8,51.7 442.7,54.2 441.5,56.5C440.3,58.8 439.1,60.9 438.0,63.0C436.9,65.1 436.0,66.9 435.0,69.0C434.0,71.1 432.5,74.4 432.0,75.5" fill="none" stroke="#fec088" stroke-width="4.76" stroke-opacity="0.7" stroke-linecap="round" stroke-linejoin="round" filter="url(#b1)"/>
<path d="M457.5,33.2C457.1,33.5 455.9,34.0 455.0,34.8C454.1,35.6 453.1,36.3 452.0,37.8C450.9,39.2 449.7,41.5 448.5,43.5C447.3,45.5 446.2,47.3 445.0,49.5C443.8,51.7 442.1,55.3 441.5,56.5" fill="none" stroke="#fdeaa8" stroke-width="2.4" stroke-opacity="0.5" stroke-linecap="round" stroke-linejoin="round" filter="url(#b1)"/>
<ellipse cx="457.5" cy="33.6" rx="4.5" ry="2.2" fill="#fdeaa8" fill-opacity="0.55" filter="url(#b1)"/>
<path d="M457.5,33.2C457.1,33.5 455.9,34.0 455.0,34.8C454.1,35.6 453.1,36.3 452.0,37.8C450.9,39.2 449.7,41.5 448.5,43.5C447.3,45.5 446.2,47.3 445.0,49.5C443.8,51.7 442.7,54.2 441.5,56.5C440.3,58.8 439.1,60.9 438.0,63.0C436.9,65.1 436.0,66.9 435.0,69.0C434.0,71.1 433.0,73.3 432.0,75.5C431.0,77.7 429.9,79.9 429.0,82.0C428.1,84.1 427.2,86.0 426.3,88.0C425.4,90.0 424.5,91.9 423.6,94.0C422.7,96.1 421.8,98.2 420.8,100.5C419.8,102.8 418.7,105.4 417.6,107.5C416.6,109.6 415.6,111.2 414.5,113.0C413.4,114.8 412.2,116.5 411.0,118.0C409.8,119.5 408.8,120.7 407.5,121.8C406.2,122.9 404.8,123.8 403.5,124.5C402.2,125.2 400.8,125.8 399.5,126.2C398.2,126.6 397.1,126.8 396.0,126.9C394.9,127.0 393.5,126.6 393.0,126.6" fill="none" stroke="#fa8c62" stroke-width="9.2" stroke-opacity="0.4" stroke-linecap="round" stroke-linejoin="round" filter="url(#b2)"/>
<path d="M457.5,33.2C457.1,33.5 455.9,34.0 455.0,34.8C454.1,35.6 453.1,36.3 452.0,37.8C450.9,39.2 449.7,41.5 448.5,43.5C447.3,45.5 446.2,47.3 445.0,49.5C443.8,51.7 442.7,54.2 441.5,56.5C440.3,58.8 439.1,60.9 438.0,63.0C436.9,65.1 436.0,66.9 435.0,69.0C434.0,71.1 433.0,73.3 432.0,75.5C431.0,77.7 429.9,79.9 429.0,82.0C428.1,84.1 427.2,86.0 426.3,88.0C425.4,90.0 424.5,91.9 423.6,94.0C422.7,96.1 421.8,98.2 420.8,100.5C419.8,102.8 418.7,105.4 417.6,107.5C416.6,109.6 415.6,111.2 414.5,113.0C413.4,114.8 412.2,116.5 411.0,118.0C409.8,119.5 408.8,120.7 407.5,121.8C406.2,122.9 404.8,123.8 403.5,124.5C402.2,125.2 400.8,125.8 399.5,126.2C398.2,126.6 397.1,126.8 396.0,126.9C394.9,127.0 393.5,126.6 393.0,126.6" fill="none" stroke="#fec088" stroke-width="4.83" stroke-opacity="0.75" stroke-linecap="round" stroke-linejoin="round" filter="url(#b1)"/>
<path d="M457.5,33.2C457.1,33.5 455.9,34.0 455.0,34.8C454.1,35.6 453.1,36.3 452.0,37.8C450.9,39.2 449.7,41.5 448.5,43.5C447.3,45.5 446.2,47.3 445.0,49.5C443.8,51.7 442.7,54.2 441.5,56.5C440.3,58.8 439.1,60.9 438.0,63.0C436.9,65.1 436.0,66.9 435.0,69.0C434.0,71.1 433.0,73.3 432.0,75.5C431.0,77.7 429.9,79.9 429.0,82.0C428.1,84.1 427.2,86.0 426.3,88.0C425.4,90.0 424.5,91.9 423.6,94.0C422.7,96.1 421.8,98.2 420.8,100.5C419.8,102.8 418.7,105.4 417.6,107.5C416.6,109.6 415.6,111.2 414.5,113.0C413.4,114.8 412.2,116.5 411.0,118.0C409.8,119.5 408.8,120.7 407.5,121.8C406.2,122.9 404.8,123.8 403.5,124.5C402.2,125.2 400.8,125.8 399.5,126.2C398.2,126.6 397.1,126.8 396.0,126.9C394.9,127.0 393.5,126.6 393.0,126.6" fill="none" stroke="#fdeaa8" stroke-width="2.1849999999999996" stroke-opacity="0.95" stroke-linecap="round" stroke-linejoin="round" filter="url(#b05)"/>
<path d="M396.0,126.9C395.5,126.9 393.9,126.8 393.0,126.6C392.1,126.4 391.2,126.0 390.5,125.6C389.8,125.2 389.1,124.3 388.8,124.0" fill="none" stroke="#fa8c62" stroke-width="7.2" stroke-opacity="0.315" stroke-linecap="round" stroke-linejoin="round" filter="url(#b2)"/>
<path d="M396.0,126.9C395.5,126.9 393.9,126.8 393.0,126.6C392.1,126.4 391.2,126.0 390.5,125.6C389.8,125.2 389.1,124.3 388.8,124.0" fill="none" stroke="#fec088" stroke-width="3.06" stroke-opacity="0.48999999999999994" stroke-linecap="round" stroke-linejoin="round" filter="url(#b1)"/>
<path d="M420.8,100.5C420.3,101.7 418.7,105.4 417.6,107.5C416.6,109.6 415.6,111.2 414.5,113.0C413.4,114.8 412.2,116.5 411.0,118.0C409.8,119.5 408.8,120.7 407.5,121.8C406.2,122.9 404.8,123.8 403.5,124.5C402.2,125.2 400.8,125.8 399.5,126.2C398.2,126.6 396.6,126.8 396.0,126.9" fill="none" stroke="#fa8c62" stroke-width="12.0" stroke-opacity="0.27999999999999997" stroke-linecap="round" stroke-linejoin="round" filter="url(#b2)"/>
<path d="M420.8,100.5C420.3,101.7 418.7,105.4 417.6,107.5C416.6,109.6 415.6,111.2 414.5,113.0C413.4,114.8 412.2,116.5 411.0,118.0C409.8,119.5 408.8,120.7 407.5,121.8C406.2,122.9 404.8,123.8 403.5,124.5C402.2,125.2 400.8,125.8 399.5,126.2C398.2,126.6 396.6,126.8 396.0,126.9" fill="none" stroke="#fec088" stroke-width="6.300000000000001" stroke-opacity="0.5249999999999999" stroke-linecap="round" stroke-linejoin="round" filter="url(#b1)"/>
<path d="M420.8,100.5C420.3,101.7 418.7,105.4 417.6,107.5C416.6,109.6 415.6,111.2 414.5,113.0C413.4,114.8 412.2,116.5 411.0,118.0C409.8,119.5 408.8,120.7 407.5,121.8C406.2,122.9 404.8,123.8 403.5,124.5C402.2,125.2 400.8,125.8 399.5,126.2C398.2,126.6 396.6,126.8 396.0,126.9" fill="none" stroke="#fdeaa8" stroke-width="2.8499999999999996" stroke-opacity="0.6649999999999999" stroke-linecap="round" stroke-linejoin="round" filter="url(#b05)"/>
<path d="M333.0,148.5C334.0,150.2 337.0,155.3 339.0,158.5C341.0,161.7 343.2,164.9 345.0,167.5C346.8,170.1 348.3,172.1 350.0,174.0C351.7,175.9 353.7,177.7 355.4,179.0C357.1,180.3 358.6,181.3 360.0,181.8C361.4,182.3 363.3,182.0 364.0,182.0" fill="none" stroke="#fa8c62" stroke-width="11.700000000000001" stroke-opacity="0.45" stroke-linecap="round" stroke-linejoin="round" filter="url(#b3)"/>
<path d="M333.0,148.5C334.0,150.2 337.0,155.3 339.0,158.5C341.0,161.7 343.2,164.9 345.0,167.5C346.8,170.1 348.3,172.1 350.0,174.0C351.7,175.9 353.7,177.7 355.4,179.0C357.1,180.3 358.6,181.3 360.0,181.8C361.4,182.3 363.3,182.0 364.0,182.0" fill="none" stroke="#fda36f" stroke-width="5.2" stroke-opacity="0.45" stroke-linecap="round" stroke-linejoin="round" filter="url(#b2)"/>
<path d="M333.0,148.5C334.0,150.2 337.0,155.3 339.0,158.5C341.0,161.7 343.2,164.9 345.0,167.5C346.8,170.1 348.3,172.1 350.0,174.0C351.7,175.9 353.7,177.7 355.4,179.0C357.1,180.3 359.2,181.3 360.0,181.8" fill="none" stroke="#fa8c62" stroke-width="10.4" stroke-opacity="0.3375" stroke-linecap="round" stroke-linejoin="round" filter="url(#b2)"/>
<path d="M333.0,148.5C334.0,150.2 337.0,155.3 339.0,158.5C341.0,161.7 343.2,164.9 345.0,167.5C346.8,170.1 348.3,172.1 350.0,174.0C351.7,175.9 353.7,177.7 355.4,179.0C357.1,180.3 359.2,181.3 360.0,181.8" fill="none" stroke="#fec088" stroke-width="4.42" stroke-opacity="0.5249999999999999" stroke-linecap="round" stroke-linejoin="round" filter="url(#b1)"/>
<path d="M333.0,148.5C334.0,150.2 337.0,155.3 339.0,158.5C341.0,161.7 343.2,164.9 345.0,167.5C346.8,170.1 349.2,172.9 350.0,174.0" fill="none" stroke="#fa8c62" stroke-width="8.0" stroke-opacity="0.32000000000000006" stroke-linecap="round" stroke-linejoin="round" filter="url(#b2)"/>
<path d="M333.0,148.5C334.0,150.2 337.0,155.3 339.0,158.5C341.0,161.7 343.2,164.9 345.0,167.5C346.8,170.1 349.2,172.9 350.0,174.0" fill="none" stroke="#fec088" stroke-width="4.2" stroke-opacity="0.6000000000000001" stroke-linecap="round" stroke-linejoin="round" filter="url(#b1)"/>
<path d="M333.0,148.5C334.0,150.2 337.0,155.3 339.0,158.5C341.0,161.7 343.2,164.9 345.0,167.5C346.8,170.1 349.2,172.9 350.0,174.0" fill="none" stroke="#fdeaa8" stroke-width="1.9" stroke-opacity="0.76" stroke-linecap="round" stroke-linejoin="round" filter="url(#b05)"/>
<path d="M345.0,167.5C345.8,168.6 348.3,172.1 350.0,174.0C351.7,175.9 353.7,177.7 355.4,179.0C357.1,180.3 359.2,181.3 360.0,181.8" fill="none" stroke="#fdeaa8" stroke-width="1.6" stroke-opacity="0.45" stroke-linecap="round" stroke-linejoin="round" filter="url(#b05)"/>
<path d="M360.0,181.8C360.7,181.8 362.7,182.6 364.0,182.0C365.3,181.4 366.7,180.1 368.0,178.5C369.3,176.9 370.7,174.7 372.0,172.5C373.3,170.3 374.7,168.0 376.0,165.5C377.3,163.0 378.8,160.2 380.0,157.5C381.2,154.8 382.4,152.1 383.5,149.0C384.6,145.9 385.6,142.5 386.5,139.0C387.4,135.5 388.4,129.8 388.8,128.0" fill="none" stroke="#fa8c62" stroke-width="10.799999999999999" stroke-opacity="0.3" stroke-linecap="round" stroke-linejoin="round" filter="url(#b3)"/>
<path d="M360.0,181.8C360.7,181.8 362.7,182.6 364.0,182.0C365.3,181.4 366.7,180.1 368.0,178.5C369.3,176.9 370.7,174.7 372.0,172.5C373.3,170.3 374.7,168.0 376.0,165.5C377.3,163.0 378.8,160.2 380.0,157.5C381.2,154.8 382.4,152.1 383.5,149.0C384.6,145.9 385.6,142.5 386.5,139.0C387.4,135.5 388.4,129.8 388.8,128.0" fill="none" stroke="#fda36f" stroke-width="4.8" stroke-opacity="0.3" stroke-linecap="round" stroke-linejoin="round" filter="url(#b2)"/>
<path d="M360.0,181.8C360.7,181.8 362.7,182.6 364.0,182.0C365.3,181.4 366.7,180.1 368.0,178.5C369.3,176.9 370.7,174.7 372.0,172.5C373.3,170.3 375.3,166.7 376.0,165.5" fill="none" stroke="#fec088" stroke-width="2.5" stroke-opacity="0.2" stroke-linecap="round" stroke-linejoin="round" filter="url(#b1)"/>
<path d="M423.5,180.0C422.1,181.2 418.1,184.3 415.0,187.0C411.9,189.7 408.5,192.8 405.0,196.0C401.5,199.2 395.8,204.3 394.0,206.0" fill="none" stroke="#fa8c62" stroke-width="9.0" stroke-opacity="0.175" stroke-linecap="round" stroke-linejoin="round" filter="url(#b3)"/>
<path d="M423.5,180.0C422.1,181.2 418.1,184.3 415.0,187.0C411.9,189.7 408.5,192.8 405.0,196.0C401.5,199.2 395.8,204.3 394.0,206.0" fill="none" stroke="#fda36f" stroke-width="4.0" stroke-opacity="0.175" stroke-linecap="round" stroke-linejoin="round" filter="url(#b2)"/>
<path d="M364.0,182.0C365.3,183.2 369.2,186.5 372.0,189.0C374.8,191.5 378.0,194.3 381.0,197.0C384.0,199.7 388.5,203.7 390.0,205.0" fill="none" stroke="#fa8c62" stroke-width="9.0" stroke-opacity="0.15" stroke-linecap="round" stroke-linejoin="round" filter="url(#b3)"/>
<path d="M364.0,182.0C365.3,183.2 369.2,186.5 372.0,189.0C374.8,191.5 378.0,194.3 381.0,197.0C384.0,199.7 388.5,203.7 390.0,205.0" fill="none" stroke="#fda36f" stroke-width="4.0" stroke-opacity="0.15" stroke-linecap="round" stroke-linejoin="round" filter="url(#b2)"/>
<path d="M462.0,151.0 L456.0,151.0 L449.0,166.0 L444.0,186.0 L441.0,214.0 L462.0,214.0Z" fill="#e64f60" fill-opacity="0.4" filter="url(#b2)"/>
<path d="M454.0,148.0C453.3,149.5 451.3,153.3 450.0,157.0C448.7,160.7 447.2,165.2 446.0,170.0C444.8,174.8 443.5,180.0 442.5,186.0C441.5,192.0 440.4,202.7 440.0,206.0" fill="none" stroke="#fa8c62" stroke-width="7.2" stroke-opacity="0.275" stroke-linecap="round" stroke-linejoin="round" filter="url(#b3)"/>
<path d="M454.0,148.0C453.3,149.5 451.3,153.3 450.0,157.0C448.7,160.7 447.2,165.2 446.0,170.0C444.8,174.8 443.5,180.0 442.5,186.0C441.5,192.0 440.4,202.7 440.0,206.0" fill="none" stroke="#fda36f" stroke-width="3.2" stroke-opacity="0.275" stroke-linecap="round" stroke-linejoin="round" filter="url(#b2)"/>
<path d="M455.0,147.0C454.4,148.3 452.7,151.8 451.5,155.0C450.3,158.2 449.1,162.2 448.0,166.0C446.9,169.8 445.5,176.0 445.0,178.0" fill="none" stroke="#fec088" stroke-width="2.2" stroke-opacity="0.35" stroke-linecap="round" stroke-linejoin="round" filter="url(#b1)"/>
<path d="M444.0,146.0C444.7,144.8 446.5,141.1 448.0,139.0C449.5,136.9 451.2,134.8 453.0,133.5C454.8,132.2 457.6,131.8 458.5,131.5" fill="none" stroke="#fa8c62" stroke-width="7.2" stroke-opacity="0.225" stroke-linecap="round" stroke-linejoin="round" filter="url(#b3)"/>
<path d="M444.0,146.0C444.7,144.8 446.5,141.1 448.0,139.0C449.5,136.9 451.2,134.8 453.0,133.5C454.8,132.2 457.6,131.8 458.5,131.5" fill="none" stroke="#fda36f" stroke-width="3.2" stroke-opacity="0.225" stroke-linecap="round" stroke-linejoin="round" filter="url(#b2)"/>
<path d="M458.5,143.2C458.0,143.3 456.5,143.3 455.5,143.7C454.5,144.1 453.6,144.6 452.5,145.6C451.4,146.6 450.1,148.1 449.0,149.5C447.9,150.9 447.0,152.3 446.0,154.0C445.0,155.7 444.0,157.7 443.0,159.5C442.0,161.3 441.1,163.2 440.0,165.0C438.9,166.8 437.8,168.8 436.5,170.5C435.2,172.2 433.9,173.7 432.5,175.0C431.1,176.3 429.5,177.7 428.0,178.5C426.5,179.3 424.2,179.8 423.5,180.0" fill="none" stroke="#fa8c62" stroke-width="11.700000000000001" stroke-opacity="0.425" stroke-linecap="round" stroke-linejoin="round" filter="url(#b3)"/>
<path d="M458.5,143.2C458.0,143.3 456.5,143.3 455.5,143.7C454.5,144.1 453.6,144.6 452.5,145.6C451.4,146.6 450.1,148.1 449.0,149.5C447.9,150.9 447.0,152.3 446.0,154.0C445.0,155.7 444.0,157.7 443.0,159.5C442.0,161.3 441.1,163.2 440.0,165.0C438.9,166.8 437.8,168.8 436.5,170.5C435.2,172.2 433.9,173.7 432.5,175.0C431.1,176.3 429.5,177.7 428.0,178.5C426.5,179.3 424.2,179.8 423.5,180.0" fill="none" stroke="#fda36f" stroke-width="5.2" stroke-opacity="0.425" stroke-linecap="round" stroke-linejoin="round" filter="url(#b2)"/>
<path d="M458.5,143.2C458.0,143.3 456.5,143.3 455.5,143.7C454.5,144.1 453.6,144.6 452.5,145.6C451.4,146.6 450.1,148.1 449.0,149.5C447.9,150.9 447.0,152.3 446.0,154.0C445.0,155.7 443.5,158.6 443.0,159.5" fill="none" stroke="#fa8c62" stroke-width="9.6" stroke-opacity="0.315" stroke-linecap="round" stroke-linejoin="round" filter="url(#b2)"/>
<path d="M458.5,143.2C458.0,143.3 456.5,143.3 455.5,143.7C454.5,144.1 453.6,144.6 452.5,145.6C451.4,146.6 450.1,148.1 449.0,149.5C447.9,150.9 447.0,152.3 446.0,154.0C445.0,155.7 443.5,158.6 443.0,159.5" fill="none" stroke="#fec088" stroke-width="4.08" stroke-opacity="0.48999999999999994" stroke-linecap="round" stroke-linejoin="round" filter="url(#b1)"/>
<path d="M446.0,154.0C445.5,154.9 444.0,157.7 443.0,159.5C442.0,161.3 441.1,163.2 440.0,165.0C438.9,166.8 437.8,168.8 436.5,170.5C435.2,172.2 433.9,173.7 432.5,175.0C431.1,176.3 429.5,177.7 428.0,178.5C426.5,179.3 424.2,179.8 423.5,180.0" fill="none" stroke="#fec088" stroke-width="3.0" stroke-opacity="0.28" stroke-linecap="round" stroke-linejoin="round" filter="url(#b1)"/>
<path d="M458.5,143.2C458.0,143.3 456.5,143.3 455.5,143.7C454.5,144.1 453.0,145.3 452.5,145.6" fill="none" stroke="#fa8c62" stroke-width="8.8" stroke-opacity="0.34" stroke-linecap="round" stroke-linejoin="round" filter="url(#b2)"/>
<path d="M458.5,143.2C458.0,143.3 456.5,143.3 455.5,143.7C454.5,144.1 453.0,145.3 452.5,145.6" fill="none" stroke="#fec088" stroke-width="4.620000000000001" stroke-opacity="0.6375" stroke-linecap="round" stroke-linejoin="round" filter="url(#b1)"/>
<path d="M458.5,143.2C458.0,143.3 456.5,143.3 455.5,143.7C454.5,144.1 453.0,145.3 452.5,145.6" fill="none" stroke="#fdeaa8" stroke-width="2.09" stroke-opacity="0.8075" stroke-linecap="round" stroke-linejoin="round" filter="url(#b05)"/>
<path d="M452.5,145.6C451.9,146.2 450.1,148.1 449.0,149.5C447.9,150.9 446.5,153.2 446.0,154.0" fill="none" stroke="#fdeaa8" stroke-width="1.8" stroke-opacity="0.4" stroke-linecap="round" stroke-linejoin="round" filter="url(#b05)"/>
<path d="M428.0,178.5C427.2,178.8 425.0,179.9 423.5,180.0C422.0,180.1 420.4,179.7 419.0,179.0C417.6,178.3 416.3,177.3 415.0,176.0C413.7,174.7 412.3,172.9 411.0,171.0C409.7,169.1 408.2,166.8 407.0,164.5C405.8,162.2 404.7,159.6 403.5,157.0C402.3,154.4 401.1,151.7 400.0,149.0C398.9,146.3 397.5,142.3 397.0,141.0" fill="none" stroke="#fa8c62" stroke-width="11.700000000000001" stroke-opacity="0.2" stroke-linecap="round" stroke-linejoin="round" filter="url(#b3)"/>
<path d="M428.0,178.5C427.2,178.8 425.0,179.9 423.5,180.0C422.0,180.1 420.4,179.7 419.0,179.0C417.6,178.3 416.3,177.3 415.0,176.0C413.7,174.7 412.3,172.9 411.0,171.0C409.7,169.1 408.2,166.8 407.0,164.5C405.8,162.2 404.7,159.6 403.5,157.0C402.3,154.4 401.1,151.7 400.0,149.0C398.9,146.3 397.5,142.3 397.0,141.0" fill="none" stroke="#fda36f" stroke-width="5.2" stroke-opacity="0.2" stroke-linecap="round" stroke-linejoin="round" filter="url(#b2)"/>
</g>
<use href="#hh2" transform="translate(915.0,0) scale(-1,1)"/>
</g>
<path d="M333.5,14.0V211.5H570.0" stroke="#1a1a1a" stroke-width="1.2" fill="none"/>
<path d="M332.9,14.5H570.0" stroke="#222" stroke-width="1.1" fill="none"/>
<path d="M570.0,14.5V217.0" stroke="#2a2a2a" stroke-width="0.9" fill="none"/>
<path d="M328.9,42.3H333.5" stroke="#1a1a1a" stroke-width="1"/>
<text x="326.3" y="46.0" font-size="11.3" text-anchor="end">0.05</text>
<path d="M328.9,91.4H333.5" stroke="#1a1a1a" stroke-width="1"/>
<text x="326.3" y="95.1" font-size="11.3" text-anchor="end">0.0</text>
<path d="M328.9,140.4H333.5" stroke="#1a1a1a" stroke-width="1"/>
<text x="326.3" y="144.1" font-size="11.3" text-anchor="end">-0.05</text>
<path d="M328.9,189.6H333.5" stroke="#1a1a1a" stroke-width="1"/>
<text x="326.3" y="193.3" font-size="11.3" text-anchor="end">-0.1</text>
<path d="M333.5,211.5v5.6M457,211.5v5.6" stroke="#1a1a1a" stroke-width="1"/>
<text x="334.3" y="229.6" font-size="11.4" text-anchor="middle">X</text>
<path d="M331.0,220.4h6.6" stroke="#111" stroke-width="0.7"/>
<text x="457.2" y="229.6" font-size="11.4" text-anchor="middle">Γ</text>
<path d="M454.4,220.4h5.6" stroke="#111" stroke-width="0.7"/>
<text x="570.2" y="229.6" font-size="11.4" text-anchor="middle">X</text>
<path d="M566.9,220.4h6.6" stroke="#111" stroke-width="0.7"/>
<path d="M363,224.6H429.3M478.6,224.6H545.5" stroke="#111" stroke-width="0.7" fill="none"/>
<path d="M359,224.6l5,-1.9v3.8zM549.5,224.6l-5,-1.9v3.8z" fill="#111"/>
<text transform="translate(302.5,108.2) rotate(-90)" font-size="11.2" text-anchor="middle" textLength="46.4" lengthAdjust="spacingAndGlyphs">E-E<tspan font-size="8.2" dy="3.5">F</tspan><tspan dy="-3.5"> (eV)</tspan></text>
</svg>
</body></html>
